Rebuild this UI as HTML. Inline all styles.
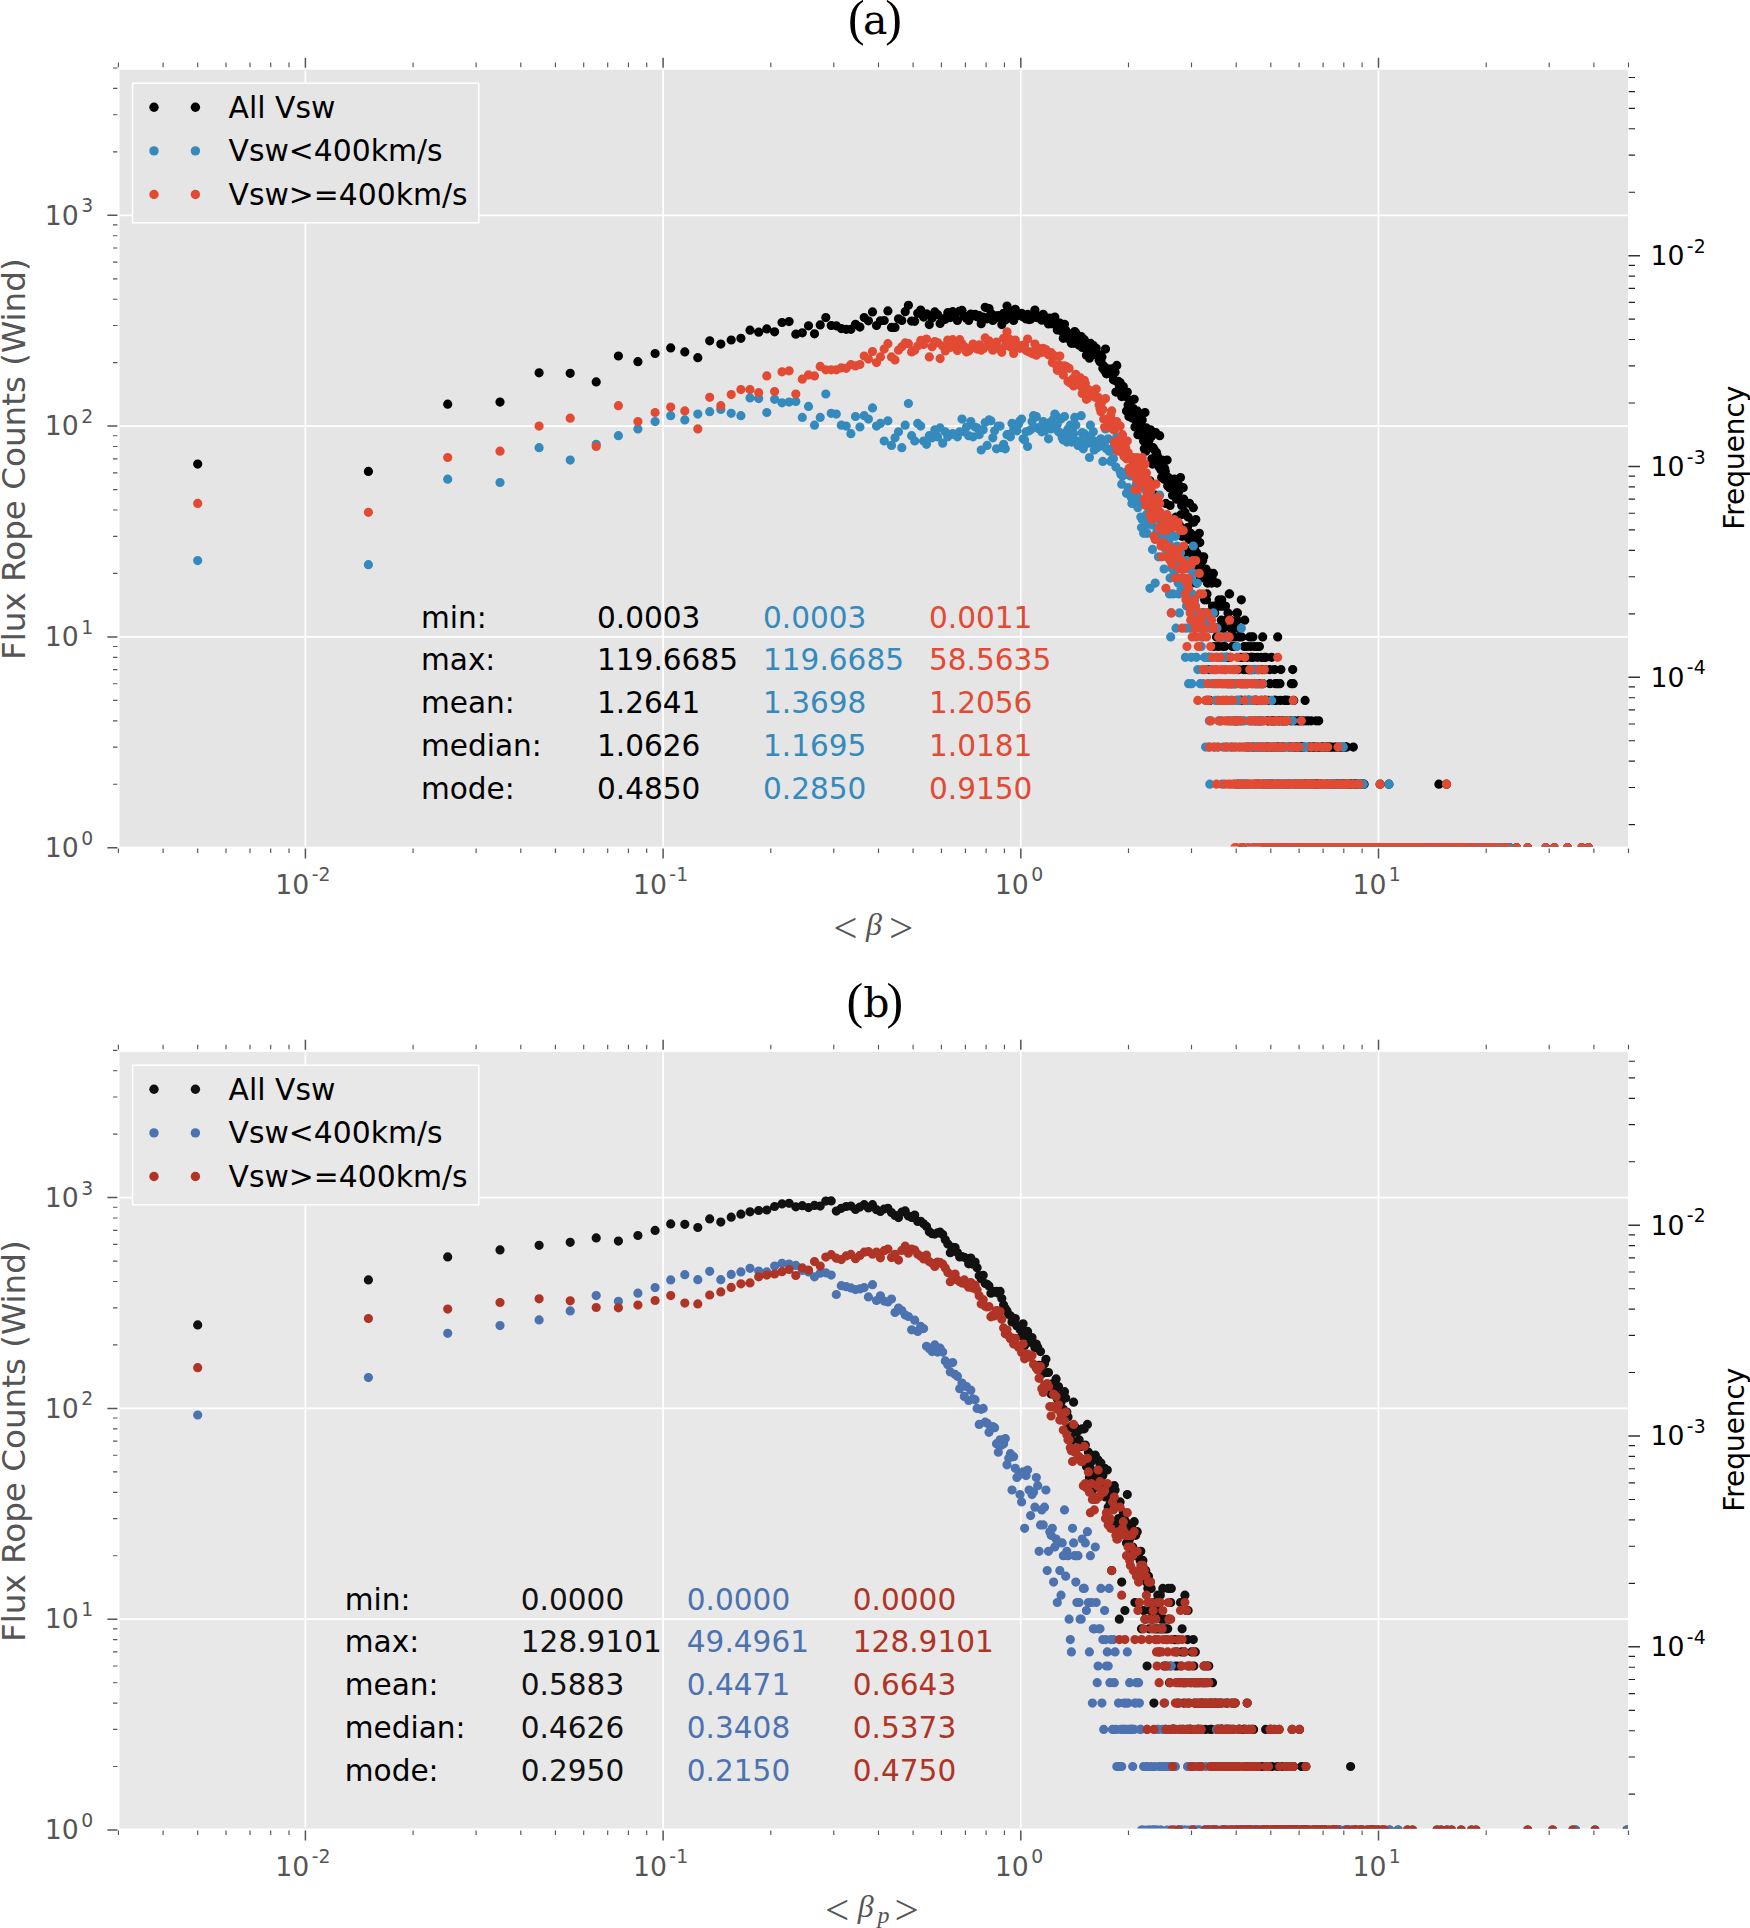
<!DOCTYPE html>
<html lang="en"><head><meta charset="utf-8"><title>Flux rope beta distributions</title>
<style>html,body{margin:0;padding:0;background:#fff}svg{display:block}</style></head><body>
<svg width="1750" height="1928" viewBox="0 0 1750 1928">
<rect width="1750" height="1928" fill="#fff"/>
<clipPath id="c0"><rect x="119.5" y="69.8" width="1508.5" height="776.8"/></clipPath>
<rect x="119.5" y="69.8" width="1508.5" height="776.8" fill="#E5E5E5"/>
<path d="M305.4 69.8V846.6M663.1 69.8V846.6M1020.8 69.8V846.6M1378.5 69.8V846.6M119.5 636.9H1628.0M119.5 426.1H1628.0M119.5 215.3H1628.0" stroke="#fff" stroke-width="1.7" fill="none"/>
<g clip-path="url(#c0)" fill="none" stroke-linecap="round" stroke-width="9.2">
<path stroke="#000000" d="M197.7 464.1h.01M368.4 471.4h.01M447.7 404.2h.01M500.0 402.1h.01M539.1 372.8h.01M570.2 373.3h.01M596.2 381.9h.01M618.4 356.0h.01M637.9 361.7h.01M655.1 353.5h.01M670.7 347.9h.01M684.8 351.9h.01M697.8 357.7h.01M709.7 340.8h.01M720.8 344.1h.01M731.2 340.0h.01M740.9 338.3h.01M750.0 330.2h.01M758.7 332.2h.01M766.8 328.9h.01M774.6 331.8h.01M782.0 322.5h.01M789.1 321.6h.01M795.8 334.2h.01M802.3 332.8h.01M808.5 325.8h.01M814.5 333.8h.01M820.2 324.9h.01M825.8 317.6h.01M831.2 325.5h.01M836.3 325.8h.01M841.3 328.6h.01M846.2 329.3h.01M850.9 329.3h.01M855.5 324.3h.01M859.9 327.1h.01M864.2 317.6h.01M868.4 320.8h.01M872.5 311.9h.01M876.5 325.5h.01M880.4 320.8h.01M884.2 320.5h.01M887.9 310.9h.01M891.5 327.4h.01M895.0 327.4h.01M898.5 318.8h.01M901.8 320.5h.01M905.2 311.7h.01M908.4 305.3h.01M911.6 321.1h.01M914.7 321.3h.01M917.7 313.3h.01M920.7 310.1h.01M923.6 317.1h.01M926.5 313.8h.01M929.3 324.6h.01M932.1 317.9h.01M934.8 311.9h.01M937.5 314.6h.01M940.1 323.4h.01M942.7 318.8h.01M945.3 319.3h.01M947.8 312.7h.01M950.3 317.6h.01M952.7 311.7h.01M955.1 314.6h.01M957.4 320.5h.01M959.7 311.1h.01M962.0 310.4h.01M964.3 316.2h.01M966.5 318.5h.01M968.7 320.5h.01M970.8 314.1h.01M973.0 315.7h.01M975.1 314.3h.01M977.1 316.8h.01M979.2 315.7h.01M981.2 323.7h.01M983.2 317.1h.01M985.2 307.3h.01M987.1 318.8h.01M989.0 308.6h.01M990.9 313.3h.01M992.8 320.5h.01M994.6 315.7h.01M996.5 317.4h.01M998.3 315.7h.01M1000.1 316.2h.01M1001.8 324.6h.01M1003.6 313.3h.01M1005.3 319.9h.01M1007.0 306.1h.01M1008.7 311.1h.01M1010.4 317.9h.01M1012.0 312.5h.01M1013.6 320.5h.01M1015.3 309.3h.01M1016.9 316.0h.01M1018.5 313.3h.01M1020.0 314.1h.01M1021.6 313.3h.01M1023.1 317.1h.01M1024.6 317.1h.01M1026.1 319.0h.01M1027.6 314.3h.01M1029.1 319.6h.01M1030.6 319.3h.01M1032.0 317.9h.01M1033.5 316.2h.01M1034.9 310.1h.01M1036.3 317.4h.01M1037.7 316.0h.01M1039.1 317.6h.01M1040.5 319.0h.01M1041.8 320.2h.01M1043.2 314.3h.01M1044.5 319.6h.01M1045.9 317.6h.01M1047.2 318.8h.01M1048.5 324.0h.01M1049.8 318.2h.01M1051.1 319.6h.01M1052.3 323.7h.01M1053.6 318.2h.01M1054.8 317.1h.01M1056.1 323.4h.01M1057.3 329.9h.01M1058.5 328.6h.01M1059.8 323.1h.01M1061.0 325.5h.01M1062.2 331.8h.01M1063.3 338.3h.01M1064.5 324.3h.01M1065.7 330.2h.01M1066.8 333.5h.01M1068.0 338.6h.01M1069.1 333.5h.01M1070.3 338.3h.01M1071.4 343.3h.01M1072.5 337.9h.01M1073.6 343.3h.01M1074.7 331.5h.01M1075.8 332.8h.01M1076.9 341.1h.01M1078.0 343.3h.01M1079.1 345.2h.01M1080.1 341.1h.01M1081.2 336.5h.01M1082.2 347.5h.01M1083.3 345.6h.01M1084.3 339.7h.01M1085.3 344.8h.01M1086.4 355.2h.01M1087.4 352.3h.01M1088.4 349.1h.01M1089.4 358.2h.01M1090.4 343.3h.01M1091.4 348.7h.01M1092.4 349.8h.01M1093.3 345.6h.01M1094.3 353.5h.01M1095.3 354.3h.01M1096.2 348.3h.01M1097.2 355.6h.01M1098.1 353.9h.01M1099.1 359.9h.01M1100.0 361.7h.01M1100.9 360.8h.01M1101.9 356.9h.01M1102.8 368.3h.01M1103.7 365.9h.01M1104.6 370.8h.01M1105.5 349.1h.01M1106.4 373.8h.01M1107.3 371.3h.01M1108.2 368.8h.01M1109.1 372.3h.01M1109.9 369.8h.01M1110.8 371.8h.01M1111.7 368.8h.01M1112.5 375.4h.01M1113.4 379.7h.01M1114.3 380.3h.01M1115.1 372.3h.01M1115.9 392.1h.01M1116.8 365.4h.01M1117.6 381.9h.01M1118.5 381.4h.01M1119.3 385.4h.01M1120.1 382.5h.01M1120.9 393.4h.01M1121.7 396.6h.01M1122.5 389.6h.01M1123.3 386.6h.01M1124.1 392.7h.01M1124.9 394.6h.01M1125.7 396.6h.01M1126.5 410.9h.01M1127.3 392.1h.01M1128.1 404.9h.01M1128.9 416.5h.01M1129.6 400.0h.01M1130.4 410.9h.01M1131.2 417.4h.01M1131.9 415.7h.01M1132.7 418.2h.01M1133.4 408.6h.01M1134.2 399.3h.01M1134.9 427.0h.01M1135.7 419.9h.01M1136.4 418.2h.01M1137.2 410.9h.01M1137.9 434.7h.01M1138.6 417.4h.01M1139.4 423.4h.01M1140.1 417.4h.01M1140.8 427.0h.01M1141.5 435.7h.01M1142.2 419.9h.01M1142.9 431.8h.01M1143.6 441.0h.01M1144.3 448.8h.01M1145.0 412.5h.01M1145.7 451.2h.01M1146.4 427.9h.01M1147.1 447.7h.01M1147.8 441.0h.01M1148.5 433.7h.01M1149.2 439.9h.01M1149.9 480.8h.01M1150.5 429.8h.01M1151.2 436.8h.01M1151.9 458.8h.01M1152.5 464.1h.01M1153.2 447.7h.01M1153.9 461.4h.01M1154.5 450.0h.01M1155.2 495.2h.01M1155.8 432.7h.01M1156.5 452.4h.01M1157.1 454.9h.01M1157.8 461.4h.01M1158.4 458.8h.01M1159.1 467.0h.01M1159.7 435.7h.01M1160.3 461.4h.01M1161.0 469.9h.01M1161.6 477.6h.01M1162.2 460.1h.01M1162.8 474.4h.01M1163.5 472.9h.01M1164.1 479.2h.01M1164.7 468.4h.01M1165.3 471.4h.01M1165.9 503.4h.01M1166.5 479.2h.01M1167.1 460.1h.01M1167.7 486.0h.01M1168.3 477.6h.01M1168.9 482.5h.01M1169.5 487.7h.01M1170.1 505.5h.01M1170.7 527.6h.01M1171.3 549.4h.01M1171.9 486.0h.01M1172.5 495.2h.01M1173.1 491.4h.01M1173.7 493.3h.01M1174.2 479.2h.01M1174.8 495.2h.01M1175.4 491.4h.01M1176.0 517.1h.01M1176.5 499.2h.01M1177.1 487.7h.01M1177.7 487.7h.01M1178.2 484.2h.01M1178.8 491.4h.01M1179.4 524.9h.01M1179.9 499.2h.01M1180.5 477.6h.01M1181.0 514.7h.01M1181.6 505.5h.01M1182.1 536.3h.01M1182.7 505.5h.01M1183.2 487.7h.01M1183.8 499.2h.01M1184.3 503.4h.01M1184.9 512.3h.01M1185.4 556.8h.01M1185.9 549.4h.01M1186.5 530.4h.01M1187.0 530.4h.01M1187.5 527.6h.01M1188.1 517.1h.01M1188.6 560.6h.01M1189.1 539.4h.01M1189.6 503.4h.01M1190.2 556.8h.01M1190.7 533.3h.01M1191.2 536.3h.01M1191.7 583.1h.01M1192.2 549.4h.01M1192.8 522.2h.01M1193.3 507.7h.01M1193.8 522.2h.01M1194.3 539.4h.01M1194.8 549.4h.01M1195.3 542.6h.01M1195.8 519.6h.01M1196.3 583.1h.01M1196.8 553.0h.01M1197.3 536.3h.01M1197.8 620.2h.01M1198.3 564.7h.01M1198.8 569.0h.01M1199.3 533.3h.01M1199.8 542.6h.01M1200.3 578.1h.01M1200.8 564.7h.01M1201.2 569.0h.01M1201.7 556.8h.01M1202.2 573.4h.01M1202.7 560.6h.01M1203.2 612.9h.01M1203.7 556.8h.01M1204.1 578.1h.01M1204.6 599.8h.01M1205.1 578.1h.01M1205.6 657.3h.01M1206.0 569.0h.01M1206.5 599.8h.01M1207.0 593.9h.01M1207.4 583.1h.01M1207.9 583.1h.01M1208.4 612.9h.01M1208.8 657.3h.01M1209.3 669.6h.01M1209.8 700.4h.01M1210.2 620.2h.01M1210.7 573.4h.01M1211.1 628.2h.01M1211.6 583.1h.01M1212.0 578.1h.01M1212.5 606.1h.01M1213.0 612.9h.01M1213.4 573.4h.01M1213.9 646.5h.01M1214.3 606.1h.01M1214.7 612.9h.01M1215.2 606.1h.01M1215.6 628.2h.01M1216.1 606.1h.01M1216.5 636.9h.01M1217.0 583.1h.01M1217.4 628.2h.01M1217.8 628.2h.01M1218.3 646.5h.01M1218.7 606.1h.01M1219.1 599.8h.01M1219.6 636.9h.01M1220.0 606.1h.01M1220.4 636.9h.01M1220.9 606.1h.01M1221.3 620.2h.01M1221.7 599.8h.01M1222.1 657.3h.01M1222.6 628.2h.01M1223.0 646.5h.01M1223.4 628.2h.01M1223.8 606.1h.01M1224.3 636.9h.01M1224.7 646.5h.01M1225.1 606.1h.01M1225.5 606.1h.01M1225.9 657.3h.01M1226.3 620.2h.01M1226.8 636.9h.01M1227.2 657.3h.01M1227.6 683.7h.01M1228.0 612.9h.01M1228.4 683.7h.01M1228.8 636.9h.01M1229.2 593.9h.01M1229.6 593.9h.01M1230.0 657.3h.01M1230.4 620.2h.01M1230.8 628.2h.01M1231.6 683.7h.01M1232.0 636.9h.01M1232.4 646.5h.01M1232.8 646.5h.01M1233.2 683.7h.01M1233.6 628.2h.01M1234.0 646.5h.01M1234.4 683.7h.01M1234.8 720.8h.01M1235.2 636.9h.01M1235.6 646.5h.01M1236.0 683.7h.01M1236.4 720.8h.01M1236.7 612.9h.01M1237.1 620.2h.01M1237.5 612.9h.01M1237.9 720.8h.01M1238.3 784.2h.01M1238.7 669.6h.01M1239.0 628.2h.01M1239.4 636.9h.01M1239.8 700.4h.01M1240.2 657.3h.01M1240.6 683.7h.01M1240.9 700.4h.01M1241.3 599.8h.01M1241.7 636.9h.01M1242.1 700.4h.01M1242.4 784.2h.01M1242.8 847.7h.01M1243.2 657.3h.01M1243.6 669.6h.01M1243.9 683.7h.01M1244.3 646.5h.01M1244.7 620.2h.01M1245.0 700.4h.01M1245.4 669.6h.01M1245.8 657.3h.01M1246.1 683.7h.01M1246.5 784.2h.01M1246.8 646.5h.01M1247.2 657.3h.01M1247.6 683.7h.01M1247.9 669.6h.01M1248.3 747.1h.01M1248.7 700.4h.01M1249.0 700.4h.01M1249.4 669.6h.01M1249.7 636.9h.01M1250.1 669.6h.01M1250.4 646.5h.01M1250.8 657.3h.01M1251.1 669.6h.01M1251.5 657.3h.01M1251.8 636.9h.01M1252.2 669.6h.01M1252.5 747.1h.01M1252.9 636.9h.01M1253.2 657.3h.01M1253.6 700.4h.01M1253.9 747.1h.01M1254.3 646.5h.01M1254.6 669.6h.01M1255.0 700.4h.01M1255.3 683.7h.01M1255.7 720.8h.01M1256.0 700.4h.01M1256.3 700.4h.01M1256.7 646.5h.01M1257.0 747.1h.01M1257.4 657.3h.01M1257.7 669.6h.01M1258.0 683.7h.01M1258.4 683.7h.01M1258.7 669.6h.01M1259.0 720.8h.01M1259.4 646.5h.01M1259.7 683.7h.01M1260.0 720.8h.01M1260.4 747.1h.01M1260.7 720.8h.01M1261.0 657.3h.01M1261.4 700.4h.01M1261.7 669.6h.01M1262.0 669.6h.01M1262.4 683.7h.01M1262.7 636.9h.01M1263.0 683.7h.01M1263.3 747.1h.01M1263.7 784.2h.01M1264.0 669.6h.01M1264.3 657.3h.01M1264.6 669.6h.01M1265.0 700.4h.01M1265.3 700.4h.01M1265.6 847.7h.01M1265.9 657.3h.01M1266.2 784.2h.01M1266.6 747.1h.01M1266.9 784.2h.01M1267.2 747.1h.01M1267.5 720.8h.01M1267.8 747.1h.01M1268.2 700.4h.01M1268.5 784.2h.01M1268.8 720.8h.01M1269.4 784.2h.01M1269.7 669.6h.01M1270.0 683.7h.01M1270.4 747.1h.01M1270.7 784.2h.01M1271.0 784.2h.01M1271.3 720.8h.01M1271.6 657.3h.01M1271.9 720.8h.01M1272.2 847.7h.01M1272.5 784.2h.01M1272.8 784.2h.01M1273.1 720.8h.01M1273.4 720.8h.01M1273.7 747.1h.01M1274.1 700.4h.01M1274.4 669.6h.01M1274.7 700.4h.01M1275.0 720.8h.01M1275.3 683.7h.01M1275.9 683.7h.01M1276.2 700.4h.01M1276.5 747.1h.01M1276.8 784.2h.01M1277.1 683.7h.01M1277.4 747.1h.01M1277.7 636.9h.01M1278.0 747.1h.01M1278.3 720.8h.01M1278.5 747.1h.01M1278.8 784.2h.01M1279.1 847.7h.01M1279.4 747.1h.01M1279.7 720.8h.01M1280.0 683.7h.01M1280.3 700.4h.01M1280.9 669.6h.01M1281.5 747.1h.01M1281.8 720.8h.01M1282.1 747.1h.01M1282.3 847.7h.01M1282.6 720.8h.01M1282.9 784.2h.01M1283.5 747.1h.01M1283.8 747.1h.01M1284.1 720.8h.01M1284.4 700.4h.01M1284.6 847.7h.01M1284.9 847.7h.01M1285.2 700.4h.01M1285.5 700.4h.01M1285.8 784.2h.01M1286.1 720.8h.01M1286.3 720.8h.01M1286.6 847.7h.01M1286.9 720.8h.01M1287.2 700.4h.01M1287.5 847.7h.01M1288.0 700.4h.01M1288.3 784.2h.01M1288.8 784.2h.01M1289.1 747.1h.01M1289.4 747.1h.01M1289.7 847.7h.01M1289.9 747.1h.01M1290.5 847.7h.01M1290.8 747.1h.01M1291.0 720.8h.01M1291.3 683.7h.01M1291.6 747.1h.01M1291.9 747.1h.01M1292.1 847.7h.01M1292.4 683.7h.01M1292.7 669.6h.01M1293.2 683.7h.01M1293.5 847.7h.01M1293.7 700.4h.01M1294.0 784.2h.01M1294.3 784.2h.01M1294.8 784.2h.01M1295.1 720.8h.01M1295.3 747.1h.01M1295.9 784.2h.01M1296.1 747.1h.01M1296.4 747.1h.01M1296.7 784.2h.01M1296.9 847.7h.01M1297.5 847.7h.01M1297.7 747.1h.01M1298.0 720.8h.01M1298.5 784.2h.01M1299.0 747.1h.01M1299.3 720.8h.01M1299.5 847.7h.01M1299.8 847.7h.01M1300.3 784.2h.01M1300.6 747.1h.01M1300.8 784.2h.01M1301.1 747.1h.01M1301.3 720.8h.01M1301.6 747.1h.01M1301.8 784.2h.01M1302.3 747.1h.01M1302.6 847.7h.01M1302.9 747.1h.01M1303.4 720.8h.01M1303.6 784.2h.01M1304.1 747.1h.01M1304.4 784.2h.01M1304.6 847.7h.01M1304.9 784.2h.01M1305.1 700.4h.01M1305.4 784.2h.01M1305.6 847.7h.01M1305.9 784.2h.01M1306.4 720.8h.01M1306.6 784.2h.01M1306.8 847.7h.01M1307.1 784.2h.01M1307.3 847.7h.01M1307.8 847.7h.01M1308.1 784.2h.01M1308.3 720.8h.01M1308.6 747.1h.01M1309.0 784.2h.01M1309.5 784.2h.01M1309.8 747.1h.01M1310.3 784.2h.01M1311.0 784.2h.01M1311.2 720.8h.01M1311.5 747.1h.01M1311.9 784.2h.01M1312.7 847.7h.01M1312.9 784.2h.01M1313.1 747.1h.01M1313.4 847.7h.01M1313.6 747.1h.01M1313.8 784.2h.01M1314.3 784.2h.01M1314.5 847.7h.01M1314.8 747.1h.01M1315.2 847.7h.01M1315.5 847.7h.01M1315.7 784.2h.01M1315.9 847.7h.01M1316.2 720.8h.01M1316.4 747.1h.01M1316.6 784.2h.01M1316.9 784.2h.01M1317.3 784.2h.01M1317.6 847.7h.01M1318.0 847.7h.01M1318.2 747.1h.01M1318.5 847.7h.01M1318.7 720.8h.01M1318.9 784.2h.01M1319.6 784.2h.01M1319.8 847.7h.01M1320.1 784.2h.01M1320.3 847.7h.01M1320.7 784.2h.01M1321.0 784.2h.01M1321.2 747.1h.01M1321.4 847.7h.01M1321.6 747.1h.01M1321.9 784.2h.01M1322.1 847.7h.01M1322.5 747.1h.01M1322.8 747.1h.01M1323.0 847.7h.01M1323.4 747.1h.01M1324.3 847.7h.01M1325.0 847.7h.01M1325.4 747.1h.01M1325.8 847.7h.01M1326.3 747.1h.01M1326.5 784.2h.01M1326.7 847.7h.01M1327.1 784.2h.01M1327.4 847.7h.01M1327.6 747.1h.01M1327.8 747.1h.01M1328.4 847.7h.01M1328.9 847.7h.01M1329.3 747.1h.01M1329.5 847.7h.01M1329.7 784.2h.01M1330.1 747.1h.01M1330.4 747.1h.01M1330.6 784.2h.01M1331.0 784.2h.01M1331.4 847.7h.01M1331.6 784.2h.01M1332.0 847.7h.01M1332.5 747.1h.01M1332.7 847.7h.01M1333.1 847.7h.01M1333.3 847.7h.01M1333.5 784.2h.01M1333.9 847.7h.01M1334.5 847.7h.01M1334.9 847.7h.01M1335.1 747.1h.01M1335.4 784.2h.01M1335.6 847.7h.01M1335.8 747.1h.01M1336.2 784.2h.01M1336.6 784.2h.01M1336.8 847.7h.01M1337.4 847.7h.01M1337.8 784.2h.01M1338.0 747.1h.01M1338.4 847.7h.01M1338.8 784.2h.01M1339.0 847.7h.01M1339.4 847.7h.01M1340.0 847.7h.01M1340.6 784.2h.01M1340.8 747.1h.01M1341.0 784.2h.01M1341.6 847.7h.01M1341.8 847.7h.01M1342.4 784.2h.01M1342.6 847.7h.01M1342.8 784.2h.01M1343.0 847.7h.01M1343.3 747.1h.01M1343.5 784.2h.01M1343.7 847.7h.01M1343.9 847.7h.01M1344.3 784.2h.01M1344.7 847.7h.01M1344.9 847.7h.01M1345.5 784.2h.01M1345.7 747.1h.01M1346.1 784.2h.01M1346.2 747.1h.01M1346.6 747.1h.01M1346.8 747.1h.01M1347.0 847.7h.01M1347.6 847.7h.01M1347.8 784.2h.01M1348.0 847.7h.01M1348.7 847.7h.01M1349.1 847.7h.01M1349.3 784.2h.01M1349.5 847.7h.01M1350.0 847.7h.01M1350.6 784.2h.01M1350.8 847.7h.01M1351.1 784.2h.01M1351.7 847.7h.01M1351.9 847.7h.01M1352.2 784.2h.01M1352.6 847.7h.01M1352.8 847.7h.01M1353.3 747.1h.01M1353.7 784.2h.01M1353.9 784.2h.01M1354.3 784.2h.01M1354.4 847.7h.01M1354.8 847.7h.01M1355.5 847.7h.01M1355.7 784.2h.01M1355.9 847.7h.01M1356.2 784.2h.01M1356.6 847.7h.01M1357.3 847.7h.01M1357.8 784.2h.01M1358.7 847.7h.01M1358.9 847.7h.01M1359.3 847.7h.01M1359.4 784.2h.01M1359.8 847.7h.01M1360.7 847.7h.01M1361.4 847.7h.01M1361.5 784.2h.01M1361.9 847.7h.01M1362.4 784.2h.01M1362.6 847.7h.01M1362.9 847.7h.01M1363.3 784.2h.01M1363.6 847.7h.01M1363.9 847.7h.01M1364.1 784.2h.01M1364.3 847.7h.01M1365.0 847.7h.01M1365.6 847.7h.01M1366.1 847.7h.01M1366.8 847.7h.01M1367.3 847.7h.01M1367.8 847.7h.01M1368.3 847.7h.01M1368.8 847.7h.01M1369.3 847.7h.01M1369.8 847.7h.01M1370.3 847.7h.01M1370.8 847.7h.01M1371.3 847.7h.01M1371.8 847.7h.01M1372.4 847.7h.01M1373.0 847.7h.01M1373.4 847.7h.01M1374.0 847.7h.01M1374.3 847.7h.01M1375.3 847.7h.01M1376.2 847.7h.01M1376.5 847.7h.01M1377.5 847.7h.01M1377.8 847.7h.01M1378.4 847.7h.01M1378.9 847.7h.01M1379.5 847.7h.01M1380.0 847.7h.01M1380.1 784.2h.01M1380.4 847.7h.01M1381.5 847.7h.01M1382.0 847.7h.01M1382.3 847.7h.01M1382.9 847.7h.01M1383.5 847.7h.01M1383.9 847.7h.01M1384.4 847.7h.01M1384.8 847.7h.01M1385.3 847.7h.01M1386.0 847.7h.01M1386.7 847.7h.01M1386.9 847.7h.01M1387.5 847.7h.01M1387.8 847.7h.01M1388.8 847.7h.01M1388.9 784.2h.01M1389.4 847.7h.01M1390.7 847.7h.01M1390.8 847.7h.01M1392.0 847.7h.01M1392.7 847.7h.01M1392.8 847.7h.01M1393.7 847.7h.01M1394.6 847.7h.01M1394.8 847.7h.01M1395.3 847.7h.01M1395.8 847.7h.01M1396.3 847.7h.01M1398.0 847.7h.01M1398.5 847.7h.01M1398.8 847.7h.01M1399.5 847.7h.01M1399.9 847.7h.01M1400.5 847.7h.01M1401.0 847.7h.01M1401.4 847.7h.01M1401.8 847.7h.01M1402.6 847.7h.01M1403.5 847.7h.01M1404.0 847.7h.01M1404.4 847.7h.01M1405.6 847.7h.01M1406.5 847.7h.01M1407.0 847.7h.01M1407.3 847.7h.01M1408.4 847.7h.01M1409.1 847.7h.01M1409.6 847.7h.01M1410.2 847.7h.01M1410.5 847.7h.01M1411.5 847.7h.01M1411.9 847.7h.01M1412.5 847.7h.01M1413.2 847.7h.01M1413.4 847.7h.01M1413.8 847.7h.01M1415.1 847.7h.01M1415.3 847.7h.01M1415.8 847.7h.01M1416.3 847.7h.01M1417.6 847.7h.01M1418.2 847.7h.01M1419.0 847.7h.01M1419.6 847.7h.01M1419.9 847.7h.01M1420.4 847.7h.01M1421.1 847.7h.01M1421.6 847.7h.01M1421.8 847.7h.01M1422.6 847.7h.01M1423.1 847.7h.01M1423.3 847.7h.01M1424.0 847.7h.01M1424.4 847.7h.01M1424.9 847.7h.01M1425.5 847.7h.01M1425.9 847.7h.01M1426.9 847.7h.01M1427.3 847.7h.01M1428.1 847.7h.01M1428.4 847.7h.01M1429.2 847.7h.01M1429.9 847.7h.01M1430.4 847.7h.01M1431.3 847.7h.01M1432.2 847.7h.01M1432.4 847.7h.01M1432.9 847.7h.01M1434.2 847.7h.01M1434.3 847.7h.01M1435.2 847.7h.01M1436.0 847.7h.01M1436.5 847.7h.01M1436.8 847.7h.01M1437.7 847.7h.01M1437.8 847.7h.01M1438.9 784.2h.01M1439.0 847.7h.01M1440.2 847.7h.01M1440.8 847.7h.01M1441.5 847.7h.01M1442.3 847.7h.01M1443.2 847.7h.01M1443.9 847.7h.01M1444.3 847.7h.01M1445.3 847.7h.01M1446.5 784.2h.01M1449.0 847.7h.01M1449.4 847.7h.01M1450.0 847.7h.01M1450.5 847.7h.01M1450.9 847.7h.01M1452.8 847.7h.01M1454.7 847.7h.01M1455.5 847.7h.01M1455.9 847.7h.01M1456.5 847.7h.01M1457.2 847.7h.01M1457.6 847.7h.01M1457.8 847.7h.01M1458.6 847.7h.01M1459.0 847.7h.01M1459.5 847.7h.01M1460.7 847.7h.01M1461.0 847.7h.01M1462.3 847.7h.01M1462.8 847.7h.01M1463.3 847.7h.01M1464.3 847.7h.01M1466.2 847.7h.01M1466.9 847.7h.01M1467.6 847.7h.01M1467.9 847.7h.01M1468.7 847.7h.01M1471.7 847.7h.01M1472.5 847.7h.01M1473.2 847.7h.01M1475.3 847.7h.01M1476.9 847.7h.01M1479.0 847.7h.01M1481.7 847.7h.01M1481.9 847.7h.01M1482.3 847.7h.01M1484.2 847.7h.01M1489.2 847.7h.01M1490.1 847.7h.01M1492.6 847.7h.01M1493.4 847.7h.01M1494.2 847.7h.01M1496.1 847.7h.01M1496.4 847.7h.01M1501.0 847.7h.01M1501.4 847.7h.01M1502.8 847.7h.01M1506.4 847.7h.01M1509.7 847.7h.01M1516.6 847.7h.01M1527.7 847.7h.01M1545.7 847.7h.01M1554.3 847.7h.01M1567.5 847.7h.01M1581.7 847.7h.01M1588.6 847.7h.01"/>
<path stroke="#348ABD" d="M197.7 560.6h.01M368.4 564.7h.01M447.7 479.2h.01M500.0 482.5h.01M539.1 447.7h.01M570.2 460.1h.01M596.2 444.3h.01M618.4 435.7h.01M637.9 428.9h.01M655.1 421.6h.01M670.7 415.7h.01M684.8 419.9h.01M697.8 414.1h.01M709.7 411.7h.01M720.8 409.4h.01M731.2 413.3h.01M740.9 415.7h.01M750.0 397.9h.01M758.7 398.6h.01M766.8 412.5h.01M774.6 399.3h.01M782.0 402.8h.01M789.1 402.1h.01M795.8 401.4h.01M802.3 417.4h.01M808.5 406.4h.01M814.5 425.2h.01M820.2 417.4h.01M825.8 394.0h.01M831.2 413.3h.01M836.3 414.1h.01M841.3 425.2h.01M846.2 426.1h.01M850.9 433.7h.01M855.5 416.5h.01M859.9 427.0h.01M864.2 415.7h.01M868.4 419.1h.01M872.5 407.9h.01M876.5 426.1h.01M880.4 423.4h.01M884.2 441.0h.01M887.9 420.8h.01M891.5 445.4h.01M895.0 437.8h.01M898.5 431.8h.01M901.8 447.7h.01M905.2 425.2h.01M908.4 403.5h.01M911.6 435.7h.01M914.7 441.0h.01M917.7 423.4h.01M920.7 426.1h.01M923.6 441.0h.01M926.5 444.3h.01M929.3 435.7h.01M932.1 437.8h.01M934.8 429.8h.01M937.5 436.8h.01M940.1 427.9h.01M942.7 443.2h.01M945.3 431.8h.01M947.8 436.8h.01M950.3 434.7h.01M952.7 433.7h.01M955.1 434.7h.01M957.4 436.8h.01M959.7 431.8h.01M962.0 419.1h.01M964.3 431.8h.01M966.5 427.0h.01M968.7 435.7h.01M970.8 421.6h.01M973.0 436.8h.01M975.1 427.0h.01M977.1 427.9h.01M979.2 434.7h.01M981.2 450.0h.01M983.2 429.8h.01M985.2 422.5h.01M987.1 445.4h.01M989.0 419.9h.01M990.9 420.8h.01M992.8 437.8h.01M994.6 430.8h.01M996.5 448.8h.01M998.3 426.1h.01M1000.1 426.1h.01M1001.8 447.7h.01M1003.6 444.3h.01M1005.3 448.8h.01M1007.0 434.7h.01M1008.7 434.7h.01M1010.4 436.8h.01M1012.0 423.4h.01M1013.6 429.8h.01M1015.3 424.3h.01M1016.9 430.8h.01M1018.5 424.3h.01M1020.0 420.8h.01M1021.6 419.1h.01M1023.1 438.8h.01M1024.6 439.9h.01M1026.1 431.8h.01M1027.6 446.5h.01M1029.1 430.8h.01M1030.6 429.8h.01M1032.0 421.6h.01M1033.5 415.7h.01M1034.9 417.4h.01M1036.3 416.5h.01M1037.7 427.9h.01M1039.1 428.9h.01M1040.5 427.0h.01M1041.8 431.8h.01M1043.2 421.6h.01M1044.5 430.8h.01M1045.9 429.8h.01M1047.2 426.1h.01M1048.5 438.8h.01M1049.8 422.5h.01M1051.1 428.9h.01M1052.3 420.8h.01M1053.6 419.1h.01M1054.8 414.1h.01M1056.1 415.7h.01M1057.3 424.3h.01M1058.5 431.8h.01M1059.8 432.7h.01M1061.0 419.1h.01M1062.2 437.8h.01M1063.3 439.9h.01M1064.5 416.5h.01M1065.7 432.7h.01M1066.8 442.1h.01M1068.0 428.9h.01M1069.1 438.8h.01M1070.3 425.2h.01M1071.4 442.1h.01M1072.5 430.8h.01M1073.6 433.7h.01M1074.7 417.4h.01M1075.8 425.2h.01M1076.9 441.0h.01M1078.0 445.4h.01M1079.1 441.0h.01M1080.1 443.2h.01M1081.2 415.7h.01M1082.2 432.7h.01M1083.3 448.8h.01M1084.3 433.7h.01M1085.3 442.1h.01M1086.4 443.2h.01M1087.4 436.8h.01M1088.4 443.2h.01M1089.4 457.5h.01M1090.4 425.2h.01M1091.4 439.9h.01M1092.4 439.9h.01M1093.3 431.8h.01M1094.3 450.0h.01M1095.3 444.3h.01M1096.2 442.1h.01M1097.2 447.7h.01M1098.1 443.2h.01M1099.1 446.5h.01M1100.0 445.4h.01M1100.9 438.8h.01M1101.9 443.2h.01M1102.8 461.4h.01M1103.7 441.0h.01M1104.6 442.1h.01M1105.5 428.9h.01M1106.4 448.8h.01M1107.3 448.8h.01M1108.2 438.8h.01M1109.1 451.2h.01M1109.9 451.2h.01M1110.8 461.4h.01M1111.7 460.1h.01M1112.5 460.1h.01M1113.4 458.8h.01M1114.3 445.4h.01M1115.1 443.2h.01M1115.9 467.0h.01M1116.8 436.8h.01M1117.6 439.9h.01M1118.5 450.0h.01M1119.3 450.0h.01M1120.1 471.4h.01M1120.9 474.4h.01M1121.7 484.2h.01M1122.5 476.0h.01M1123.3 453.7h.01M1124.1 456.2h.01M1124.9 472.9h.01M1125.7 474.4h.01M1126.5 493.3h.01M1127.3 472.9h.01M1128.1 487.7h.01M1128.9 493.3h.01M1129.6 471.4h.01M1130.4 476.0h.01M1131.2 497.2h.01M1131.9 503.4h.01M1132.7 491.4h.01M1133.4 489.6h.01M1134.2 467.0h.01M1134.9 491.4h.01M1135.7 493.3h.01M1136.4 484.2h.01M1137.2 495.2h.01M1137.9 507.7h.01M1138.6 501.3h.01M1139.4 505.5h.01M1140.1 479.2h.01M1140.8 517.1h.01M1141.5 527.6h.01M1142.2 519.6h.01M1142.9 519.6h.01M1143.6 533.3h.01M1144.3 527.6h.01M1145.0 489.6h.01M1145.7 524.9h.01M1146.4 514.7h.01M1147.1 533.3h.01M1147.8 522.2h.01M1148.5 517.1h.01M1149.2 510.0h.01M1149.9 588.3h.01M1150.5 495.2h.01M1151.2 514.7h.01M1151.9 524.9h.01M1152.5 549.4h.01M1153.2 519.6h.01M1153.9 514.7h.01M1154.5 512.3h.01M1155.2 583.1h.01M1155.8 510.0h.01M1156.5 533.3h.01M1157.1 530.4h.01M1157.8 533.3h.01M1158.4 556.8h.01M1159.1 533.3h.01M1159.7 495.2h.01M1160.3 539.4h.01M1161.0 522.2h.01M1161.6 527.6h.01M1162.2 517.1h.01M1162.8 530.4h.01M1163.5 530.4h.01M1164.1 569.0h.01M1164.7 533.3h.01M1165.3 539.4h.01M1165.9 549.4h.01M1166.5 556.8h.01M1167.1 533.3h.01M1167.7 553.0h.01M1168.3 527.6h.01M1168.9 542.6h.01M1169.5 593.9h.01M1170.1 578.1h.01M1170.7 636.9h.01M1171.3 612.9h.01M1171.9 536.3h.01M1172.5 569.0h.01M1173.1 593.9h.01M1173.7 556.8h.01M1174.2 573.4h.01M1174.8 564.7h.01M1175.4 536.3h.01M1176.0 628.2h.01M1176.5 578.1h.01M1177.1 546.0h.01M1177.7 549.4h.01M1178.2 583.1h.01M1178.8 593.9h.01M1179.4 612.9h.01M1179.9 556.8h.01M1180.5 553.0h.01M1181.0 588.3h.01M1181.6 578.1h.01M1182.1 578.1h.01M1182.7 560.6h.01M1183.2 578.1h.01M1183.8 583.1h.01M1184.3 564.7h.01M1184.9 588.3h.01M1185.4 657.3h.01M1185.9 628.2h.01M1186.5 606.1h.01M1187.0 560.6h.01M1187.5 599.8h.01M1188.1 583.1h.01M1188.6 683.7h.01M1189.1 599.8h.01M1189.6 569.0h.01M1190.2 628.2h.01M1190.7 578.1h.01M1191.2 657.3h.01M1191.7 683.7h.01M1192.2 593.9h.01M1192.8 620.2h.01M1193.3 546.0h.01M1193.8 573.4h.01M1194.3 599.8h.01M1194.8 599.8h.01M1195.3 606.1h.01M1195.8 612.9h.01M1196.3 657.3h.01M1196.8 612.9h.01M1197.3 583.1h.01M1197.8 669.6h.01M1198.3 612.9h.01M1198.8 620.2h.01M1199.3 628.2h.01M1199.8 620.2h.01M1200.3 683.7h.01M1200.8 628.2h.01M1201.2 646.5h.01M1201.7 612.9h.01M1202.2 636.9h.01M1202.7 669.6h.01M1203.2 683.7h.01M1203.7 612.9h.01M1204.1 620.2h.01M1204.6 657.3h.01M1205.1 620.2h.01M1205.6 747.1h.01M1206.0 657.3h.01M1206.5 700.4h.01M1207.0 628.2h.01M1207.4 700.4h.01M1207.9 620.2h.01M1208.4 657.3h.01M1208.8 747.1h.01M1209.3 720.8h.01M1209.8 784.2h.01M1210.2 657.3h.01M1210.7 628.2h.01M1211.1 669.6h.01M1211.6 683.7h.01M1212.0 657.3h.01M1212.5 683.7h.01M1213.0 683.7h.01M1213.4 612.9h.01M1213.9 683.7h.01M1214.3 747.1h.01M1214.7 683.7h.01M1215.2 669.6h.01M1215.6 700.4h.01M1216.1 657.3h.01M1216.5 657.3h.01M1217.0 628.2h.01M1217.4 747.1h.01M1217.8 700.4h.01M1218.3 683.7h.01M1218.7 720.8h.01M1219.1 636.9h.01M1219.6 683.7h.01M1220.0 683.7h.01M1220.4 636.9h.01M1220.9 720.8h.01M1221.3 657.3h.01M1222.1 784.2h.01M1222.6 683.7h.01M1223.0 747.1h.01M1223.4 683.7h.01M1223.8 657.3h.01M1224.3 747.1h.01M1224.7 669.6h.01M1225.1 636.9h.01M1225.5 657.3h.01M1225.9 700.4h.01M1226.3 669.6h.01M1226.8 683.7h.01M1227.2 747.1h.01M1228.0 747.1h.01M1228.4 720.8h.01M1228.8 683.7h.01M1229.6 720.8h.01M1230.0 683.7h.01M1230.4 700.4h.01M1230.8 747.1h.01M1231.2 700.4h.01M1231.6 747.1h.01M1232.0 683.7h.01M1232.4 683.7h.01M1232.8 720.8h.01M1233.6 720.8h.01M1234.0 669.6h.01M1234.4 720.8h.01M1234.8 747.1h.01M1235.2 683.7h.01M1235.6 683.7h.01M1236.0 700.4h.01M1236.4 784.2h.01M1236.7 646.5h.01M1237.1 700.4h.01M1237.5 700.4h.01M1237.9 720.8h.01M1238.7 720.8h.01M1239.0 700.4h.01M1239.4 720.8h.01M1239.8 747.1h.01M1240.2 784.2h.01M1240.6 784.2h.01M1240.9 720.8h.01M1241.3 628.2h.01M1241.7 683.7h.01M1242.1 784.2h.01M1242.4 784.2h.01M1242.8 847.7h.01M1243.2 683.7h.01M1243.6 720.8h.01M1244.3 720.8h.01M1245.0 784.2h.01M1245.4 700.4h.01M1245.8 784.2h.01M1246.1 747.1h.01M1246.5 784.2h.01M1246.8 747.1h.01M1247.2 700.4h.01M1247.6 700.4h.01M1247.9 683.7h.01M1248.3 784.2h.01M1248.7 720.8h.01M1249.0 747.1h.01M1249.4 700.4h.01M1249.7 747.1h.01M1250.1 747.1h.01M1250.4 700.4h.01M1250.8 784.2h.01M1251.1 720.8h.01M1251.5 700.4h.01M1251.8 683.7h.01M1252.2 669.6h.01M1252.5 847.7h.01M1252.9 683.7h.01M1253.2 720.8h.01M1253.6 747.1h.01M1253.9 847.7h.01M1254.3 747.1h.01M1254.6 784.2h.01M1255.0 720.8h.01M1255.3 720.8h.01M1255.7 784.2h.01M1256.0 747.1h.01M1256.3 747.1h.01M1256.7 669.6h.01M1257.0 847.7h.01M1257.4 683.7h.01M1257.7 747.1h.01M1258.0 720.8h.01M1258.4 747.1h.01M1258.7 784.2h.01M1259.0 784.2h.01M1259.4 784.2h.01M1259.7 720.8h.01M1260.0 720.8h.01M1260.4 847.7h.01M1260.7 747.1h.01M1261.0 747.1h.01M1261.4 784.2h.01M1261.7 700.4h.01M1262.0 847.7h.01M1262.4 700.4h.01M1262.7 683.7h.01M1263.0 720.8h.01M1263.3 784.2h.01M1264.0 747.1h.01M1264.3 847.7h.01M1264.6 784.2h.01M1265.0 784.2h.01M1265.6 847.7h.01M1265.9 700.4h.01M1266.2 847.7h.01M1266.6 784.2h.01M1266.9 847.7h.01M1267.5 847.7h.01M1267.8 847.7h.01M1268.2 784.2h.01M1268.5 784.2h.01M1268.8 784.2h.01M1269.4 847.7h.01M1269.7 747.1h.01M1270.0 784.2h.01M1270.4 847.7h.01M1271.0 847.7h.01M1271.3 784.2h.01M1271.6 700.4h.01M1271.9 847.7h.01M1272.5 847.7h.01M1272.8 847.7h.01M1273.4 784.2h.01M1273.7 847.7h.01M1274.1 784.2h.01M1274.4 747.1h.01M1274.7 847.7h.01M1275.0 747.1h.01M1275.3 747.1h.01M1275.9 784.2h.01M1276.2 747.1h.01M1276.5 747.1h.01M1276.8 784.2h.01M1277.4 847.7h.01M1277.7 784.2h.01M1278.0 784.2h.01M1278.3 847.7h.01M1278.5 784.2h.01M1278.8 847.7h.01M1279.7 784.2h.01M1280.0 747.1h.01M1280.3 784.2h.01M1280.9 747.1h.01M1281.5 747.1h.01M1281.8 784.2h.01M1282.1 847.7h.01M1282.6 747.1h.01M1282.9 847.7h.01M1283.5 784.2h.01M1283.8 784.2h.01M1284.1 847.7h.01M1284.4 847.7h.01M1285.2 747.1h.01M1285.5 720.8h.01M1285.8 784.2h.01M1286.1 747.1h.01M1286.3 747.1h.01M1286.9 747.1h.01M1287.2 847.7h.01M1287.5 847.7h.01M1288.0 747.1h.01M1288.3 847.7h.01M1289.1 747.1h.01M1289.4 847.7h.01M1289.9 747.1h.01M1290.2 784.2h.01M1290.5 847.7h.01M1290.8 784.2h.01M1291.0 847.7h.01M1291.3 747.1h.01M1291.6 784.2h.01M1291.9 784.2h.01M1292.4 747.1h.01M1292.7 720.8h.01M1293.2 847.7h.01M1293.7 747.1h.01M1294.0 847.7h.01M1294.5 784.2h.01M1294.8 847.7h.01M1295.1 784.2h.01M1295.3 784.2h.01M1295.9 847.7h.01M1296.1 784.2h.01M1298.0 784.2h.01M1298.5 784.2h.01M1299.3 784.2h.01M1299.5 847.7h.01M1299.8 847.7h.01M1300.3 847.7h.01M1301.1 784.2h.01M1301.6 784.2h.01M1301.8 784.2h.01M1302.3 784.2h.01M1302.9 784.2h.01M1303.4 747.1h.01M1303.6 847.7h.01M1304.1 847.7h.01M1304.4 847.7h.01M1305.1 747.1h.01M1305.4 784.2h.01M1306.4 747.1h.01M1307.8 847.7h.01M1308.3 784.2h.01M1308.6 847.7h.01M1309.0 847.7h.01M1309.5 784.2h.01M1309.8 847.7h.01M1310.5 784.2h.01M1311.0 847.7h.01M1311.5 847.7h.01M1312.2 847.7h.01M1312.9 784.2h.01M1313.4 847.7h.01M1313.6 784.2h.01M1313.8 847.7h.01M1314.8 847.7h.01M1315.7 847.7h.01M1315.9 847.7h.01M1316.4 847.7h.01M1316.9 847.7h.01M1317.3 847.7h.01M1318.2 847.7h.01M1318.5 847.7h.01M1318.7 784.2h.01M1318.9 847.7h.01M1320.1 784.2h.01M1320.5 847.7h.01M1321.6 847.7h.01M1321.9 847.7h.01M1322.5 784.2h.01M1322.8 847.7h.01M1323.2 784.2h.01M1323.4 747.1h.01M1323.6 784.2h.01M1324.5 847.7h.01M1325.0 847.7h.01M1325.4 784.2h.01M1325.6 847.7h.01M1325.8 847.7h.01M1326.5 847.7h.01M1327.1 784.2h.01M1327.6 784.2h.01M1328.2 847.7h.01M1328.7 847.7h.01M1329.3 847.7h.01M1329.7 784.2h.01M1330.1 784.2h.01M1330.4 784.2h.01M1330.6 847.7h.01M1331.0 784.2h.01M1331.4 847.7h.01M1331.6 784.2h.01M1332.2 847.7h.01M1332.5 784.2h.01M1332.7 847.7h.01M1333.5 847.7h.01M1334.1 847.7h.01M1334.5 847.7h.01M1334.9 847.7h.01M1335.1 784.2h.01M1335.4 847.7h.01M1335.8 784.2h.01M1336.2 847.7h.01M1337.6 847.7h.01M1337.8 847.7h.01M1338.8 847.7h.01M1339.2 784.2h.01M1340.0 847.7h.01M1340.6 847.7h.01M1340.8 847.7h.01M1341.0 784.2h.01M1341.8 847.7h.01M1342.4 847.7h.01M1343.0 847.7h.01M1343.3 747.1h.01M1343.5 784.2h.01M1343.7 847.7h.01M1344.3 847.7h.01M1344.9 847.7h.01M1345.7 784.2h.01M1346.1 847.7h.01M1346.6 847.7h.01M1346.8 847.7h.01M1348.0 847.7h.01M1349.1 847.7h.01M1350.0 847.7h.01M1350.6 847.7h.01M1350.8 847.7h.01M1351.7 847.7h.01M1352.6 847.7h.01M1352.8 847.7h.01M1353.3 847.7h.01M1353.7 784.2h.01M1353.9 847.7h.01M1354.3 847.7h.01M1354.8 847.7h.01M1355.5 847.7h.01M1355.9 847.7h.01M1357.3 847.7h.01M1357.8 784.2h.01M1358.0 847.7h.01M1358.7 847.7h.01M1360.1 847.7h.01M1361.5 784.2h.01M1362.4 784.2h.01M1362.6 847.7h.01M1362.9 847.7h.01M1363.3 847.7h.01M1363.4 784.2h.01M1364.1 847.7h.01M1364.3 847.7h.01M1365.1 847.7h.01M1365.6 847.7h.01M1366.1 847.7h.01M1366.8 847.7h.01M1367.5 847.7h.01M1367.8 847.7h.01M1369.3 847.7h.01M1370.8 847.7h.01M1371.3 847.7h.01M1371.8 847.7h.01M1376.2 847.7h.01M1376.5 847.7h.01M1378.0 847.7h.01M1378.6 847.7h.01M1379.5 847.7h.01M1381.7 847.7h.01M1383.5 847.7h.01M1384.2 847.7h.01M1384.8 847.7h.01M1386.0 847.7h.01M1387.5 847.7h.01M1387.9 847.7h.01M1388.9 784.2h.01M1389.2 847.7h.01M1392.2 847.7h.01M1392.7 847.7h.01M1393.1 847.7h.01M1394.6 847.7h.01M1394.8 847.7h.01M1395.5 847.7h.01M1396.3 847.7h.01M1398.0 847.7h.01M1398.9 847.7h.01M1399.9 847.7h.01M1400.5 847.7h.01M1403.5 847.7h.01M1404.4 847.7h.01M1406.5 847.7h.01M1407.3 847.7h.01M1408.4 847.7h.01M1409.6 847.7h.01M1410.2 847.7h.01M1410.5 847.7h.01M1411.6 847.7h.01M1411.9 847.7h.01M1412.7 847.7h.01M1413.2 847.7h.01M1415.1 847.7h.01M1415.9 847.7h.01M1416.7 847.7h.01M1419.6 847.7h.01M1420.0 847.7h.01M1421.2 847.7h.01M1421.6 847.7h.01M1423.6 847.7h.01M1424.1 847.7h.01M1425.9 847.7h.01M1427.0 847.7h.01M1428.4 847.7h.01M1429.2 847.7h.01M1429.9 847.7h.01M1430.4 847.7h.01M1431.3 847.7h.01M1432.6 847.7h.01M1437.7 847.7h.01M1437.8 847.7h.01M1438.9 847.7h.01M1440.2 847.7h.01M1441.2 847.7h.01M1443.2 847.7h.01M1443.9 847.7h.01M1444.3 847.7h.01M1445.4 847.7h.01M1449.0 847.7h.01M1449.4 847.7h.01M1455.5 847.7h.01M1455.9 847.7h.01M1461.2 847.7h.01M1462.3 847.7h.01M1463.1 847.7h.01M1463.3 847.7h.01M1467.9 847.7h.01M1468.7 847.7h.01M1471.7 847.7h.01M1472.5 847.7h.01M1476.9 847.7h.01M1479.0 847.7h.01M1481.9 847.7h.01M1490.2 847.7h.01M1496.1 847.7h.01M1496.4 847.7h.01M1501.0 847.7h.01M1502.8 847.7h.01M1509.7 847.7h.01"/>
<path stroke="#E24A33" d="M197.7 503.4h.01M368.4 512.3h.01M447.7 457.5h.01M500.0 451.2h.01M539.1 426.1h.01M570.2 418.2h.01M596.2 446.5h.01M618.4 405.7h.01M637.9 421.6h.01M655.1 412.5h.01M670.7 407.1h.01M684.8 410.9h.01M697.8 428.9h.01M709.7 397.3h.01M720.8 405.7h.01M731.2 394.6h.01M740.9 389.6h.01M750.0 389.6h.01M758.7 392.7h.01M766.8 375.9h.01M774.6 391.5h.01M782.0 371.8h.01M789.1 370.8h.01M795.8 394.0h.01M802.3 379.2h.01M808.5 374.9h.01M814.5 375.9h.01M820.2 366.4h.01M825.8 369.8h.01M831.2 369.8h.01M836.3 369.8h.01M841.3 367.8h.01M846.2 368.3h.01M850.9 364.5h.01M855.5 365.9h.01M859.9 364.5h.01M864.2 356.0h.01M868.4 359.1h.01M872.5 351.5h.01M876.5 362.6h.01M880.4 356.9h.01M884.2 349.1h.01M887.9 343.7h.01M891.5 356.9h.01M895.0 359.9h.01M898.5 350.2h.01M901.8 346.7h.01M905.2 342.9h.01M908.4 343.7h.01M911.6 351.9h.01M914.7 350.2h.01M917.7 346.0h.01M920.7 340.4h.01M923.6 344.4h.01M926.5 339.0h.01M929.3 356.9h.01M932.1 346.7h.01M934.8 341.5h.01M937.5 342.6h.01M940.1 358.6h.01M942.7 346.0h.01M945.3 351.0h.01M947.8 340.0h.01M950.3 347.5h.01M952.7 339.7h.01M955.1 343.3h.01M957.4 350.6h.01M959.7 339.7h.01M962.0 343.7h.01M964.3 346.7h.01M966.5 351.9h.01M968.7 351.0h.01M970.8 347.9h.01M973.0 344.1h.01M975.1 346.0h.01M977.1 349.1h.01M979.2 344.8h.01M981.2 350.2h.01M983.2 348.7h.01M985.2 337.9h.01M987.1 345.2h.01M989.0 340.8h.01M990.9 347.1h.01M992.8 350.2h.01M994.6 346.3h.01M996.5 342.2h.01M998.3 348.3h.01M1000.1 349.1h.01M1001.8 352.3h.01M1003.6 338.3h.01M1005.3 345.6h.01M1007.0 331.8h.01M1008.7 338.6h.01M1010.4 347.1h.01M1012.0 344.8h.01M1013.6 353.5h.01M1015.3 340.0h.01M1016.9 346.7h.01M1018.5 345.6h.01M1020.0 348.3h.01M1021.6 347.9h.01M1023.1 345.2h.01M1024.6 344.8h.01M1026.1 350.6h.01M1027.6 339.0h.01M1029.1 351.9h.01M1030.6 351.9h.01M1032.0 353.5h.01M1033.5 353.9h.01M1034.9 344.1h.01M1036.3 355.2h.01M1037.7 347.9h.01M1039.1 349.8h.01M1040.5 352.7h.01M1041.8 352.3h.01M1043.2 348.3h.01M1044.5 351.9h.01M1045.9 349.5h.01M1047.2 352.7h.01M1048.5 354.8h.01M1049.8 353.5h.01M1051.1 352.7h.01M1052.3 362.6h.01M1053.6 355.2h.01M1054.8 356.0h.01M1056.1 365.0h.01M1057.3 370.3h.01M1058.5 364.5h.01M1059.8 356.0h.01M1061.0 366.4h.01M1062.2 366.4h.01M1063.3 374.9h.01M1064.5 365.9h.01M1065.7 366.4h.01M1066.8 366.9h.01M1068.0 381.4h.01M1069.1 368.3h.01M1070.3 383.1h.01M1071.4 381.4h.01M1072.5 379.2h.01M1073.6 386.0h.01M1074.7 377.0h.01M1075.8 374.3h.01M1076.9 378.6h.01M1078.0 379.7h.01M1079.1 384.8h.01M1080.1 377.5h.01M1081.2 386.6h.01M1082.2 393.4h.01M1083.3 381.4h.01M1084.3 380.3h.01M1085.3 383.6h.01M1086.4 399.3h.01M1087.4 398.6h.01M1088.4 389.6h.01M1089.4 396.0h.01M1090.4 391.5h.01M1091.4 390.8h.01M1092.4 392.7h.01M1093.3 390.8h.01M1094.3 392.7h.01M1095.3 397.3h.01M1096.2 389.0h.01M1097.2 397.3h.01M1098.1 397.3h.01M1099.1 404.9h.01M1100.0 408.6h.01M1100.9 411.7h.01M1101.9 402.1h.01M1102.8 409.4h.01M1103.7 419.1h.01M1104.6 427.0h.01M1105.5 398.6h.01M1106.4 427.0h.01M1107.3 422.5h.01M1108.2 426.1h.01M1109.1 422.5h.01M1109.9 418.2h.01M1110.8 414.9h.01M1111.7 410.9h.01M1112.5 421.6h.01M1113.4 429.8h.01M1114.3 442.1h.01M1115.1 428.9h.01M1115.9 445.4h.01M1116.8 421.6h.01M1117.6 451.2h.01M1118.5 439.9h.01M1119.3 447.7h.01M1120.1 426.1h.01M1120.9 442.1h.01M1121.7 441.0h.01M1122.5 434.7h.01M1123.3 446.5h.01M1124.1 456.2h.01M1124.9 445.4h.01M1125.7 447.7h.01M1126.5 458.8h.01M1127.3 441.0h.01M1128.1 452.4h.01M1128.9 468.4h.01M1129.6 456.2h.01M1130.4 472.9h.01M1131.2 467.0h.01M1131.9 460.1h.01M1132.7 472.9h.01M1133.4 457.5h.01M1134.2 458.8h.01M1134.9 489.6h.01M1135.7 474.4h.01M1136.4 479.2h.01M1137.2 457.5h.01M1137.9 489.6h.01M1138.6 464.1h.01M1139.4 471.4h.01M1140.1 482.5h.01M1140.8 469.9h.01M1141.5 477.6h.01M1142.2 457.5h.01M1142.9 476.0h.01M1143.6 482.5h.01M1144.3 499.2h.01M1145.0 464.1h.01M1145.7 505.5h.01M1146.4 472.9h.01M1147.1 493.3h.01M1147.8 489.6h.01M1148.5 480.8h.01M1149.2 497.2h.01M1149.9 514.7h.01M1150.5 491.4h.01M1151.2 487.7h.01M1151.9 519.6h.01M1152.5 510.0h.01M1153.2 503.4h.01M1153.9 536.3h.01M1154.5 514.7h.01M1155.2 539.4h.01M1155.8 484.2h.01M1156.5 501.3h.01M1157.1 507.7h.01M1157.8 517.1h.01M1158.4 497.2h.01M1159.1 527.6h.01M1159.7 503.4h.01M1160.3 512.3h.01M1161.0 546.0h.01M1161.6 556.8h.01M1162.2 530.4h.01M1162.8 546.0h.01M1163.5 542.6h.01M1164.1 522.2h.01M1164.7 530.4h.01M1165.3 530.4h.01M1165.9 588.3h.01M1166.5 530.4h.01M1167.1 514.7h.01M1167.7 546.0h.01M1168.3 556.8h.01M1168.9 549.4h.01M1169.5 522.2h.01M1170.1 560.6h.01M1170.7 560.6h.01M1171.3 612.9h.01M1171.9 564.7h.01M1172.5 549.4h.01M1173.1 527.6h.01M1173.7 556.8h.01M1174.2 519.6h.01M1174.8 553.0h.01M1175.4 578.1h.01M1176.0 549.4h.01M1176.5 549.4h.01M1177.1 556.8h.01M1177.7 553.0h.01M1178.2 522.2h.01M1178.8 527.6h.01M1179.4 569.0h.01M1179.9 569.0h.01M1180.5 530.4h.01M1181.0 569.0h.01M1181.6 560.6h.01M1182.1 628.2h.01M1182.7 578.1h.01M1183.2 530.4h.01M1183.8 546.0h.01M1184.3 569.0h.01M1184.9 564.7h.01M1185.4 593.9h.01M1185.9 599.8h.01M1186.5 583.1h.01M1187.0 646.5h.01M1187.5 583.1h.01M1188.1 578.1h.01M1188.6 588.3h.01M1189.1 606.1h.01M1189.6 564.7h.01M1190.2 612.9h.01M1190.7 620.2h.01M1191.2 564.7h.01M1191.7 620.2h.01M1192.2 636.9h.01M1192.8 560.6h.01M1193.3 606.1h.01M1193.8 599.8h.01M1194.3 606.1h.01M1194.8 628.2h.01M1195.3 606.1h.01M1195.8 560.6h.01M1196.3 636.9h.01M1196.8 620.2h.01M1197.3 620.2h.01M1197.8 700.4h.01M1198.3 646.5h.01M1198.8 646.5h.01M1199.3 573.4h.01M1199.8 593.9h.01M1200.3 612.9h.01M1200.8 628.2h.01M1201.2 620.2h.01M1201.7 628.2h.01M1202.2 636.9h.01M1202.7 593.9h.01M1203.2 669.6h.01M1203.7 628.2h.01M1204.1 669.6h.01M1204.6 669.6h.01M1205.1 669.6h.01M1205.6 700.4h.01M1206.0 612.9h.01M1206.5 636.9h.01M1207.0 700.4h.01M1207.4 612.9h.01M1207.9 683.7h.01M1208.4 700.4h.01M1208.8 700.4h.01M1209.3 747.1h.01M1209.8 747.1h.01M1210.2 720.8h.01M1210.7 646.5h.01M1211.1 720.8h.01M1211.6 620.2h.01M1212.0 628.2h.01M1212.5 657.3h.01M1213.0 669.6h.01M1213.4 669.6h.01M1213.9 747.1h.01M1214.3 628.2h.01M1214.7 669.6h.01M1215.2 669.6h.01M1215.6 683.7h.01M1216.1 683.7h.01M1216.5 784.2h.01M1217.0 669.6h.01M1217.4 657.3h.01M1217.8 683.7h.01M1218.3 747.1h.01M1218.7 636.9h.01M1219.1 700.4h.01M1219.6 720.8h.01M1220.0 657.3h.01M1220.9 636.9h.01M1221.3 720.8h.01M1221.7 669.6h.01M1222.1 683.7h.01M1222.6 700.4h.01M1223.0 683.7h.01M1223.4 700.4h.01M1223.8 683.7h.01M1224.3 669.6h.01M1224.7 784.2h.01M1225.1 720.8h.01M1225.5 683.7h.01M1225.9 747.1h.01M1226.3 700.4h.01M1226.8 720.8h.01M1227.2 700.4h.01M1227.6 683.7h.01M1228.0 636.9h.01M1228.4 784.2h.01M1228.8 720.8h.01M1229.2 636.9h.01M1229.6 620.2h.01M1230.0 784.2h.01M1230.4 669.6h.01M1230.8 657.3h.01M1231.2 683.7h.01M1231.6 747.1h.01M1232.0 720.8h.01M1232.4 747.1h.01M1232.8 700.4h.01M1233.2 784.2h.01M1233.6 669.6h.01M1234.0 784.2h.01M1234.4 784.2h.01M1234.8 847.7h.01M1235.2 720.8h.01M1235.6 747.1h.01M1236.0 847.7h.01M1236.4 784.2h.01M1236.7 720.8h.01M1237.1 669.6h.01M1237.5 657.3h.01M1238.3 784.2h.01M1238.7 747.1h.01M1239.0 683.7h.01M1239.4 683.7h.01M1239.8 784.2h.01M1240.2 683.7h.01M1240.6 720.8h.01M1240.9 847.7h.01M1241.3 720.8h.01M1242.1 747.1h.01M1243.2 784.2h.01M1243.6 747.1h.01M1243.9 683.7h.01M1244.3 700.4h.01M1244.7 657.3h.01M1245.0 747.1h.01M1245.4 784.2h.01M1245.8 683.7h.01M1246.1 747.1h.01M1246.8 683.7h.01M1247.2 747.1h.01M1247.6 847.7h.01M1247.9 847.7h.01M1248.3 847.7h.01M1249.0 784.2h.01M1249.4 784.2h.01M1249.7 669.6h.01M1250.1 720.8h.01M1250.4 720.8h.01M1250.8 683.7h.01M1251.1 747.1h.01M1251.5 747.1h.01M1251.8 720.8h.01M1252.5 784.2h.01M1252.9 720.8h.01M1253.6 784.2h.01M1253.9 784.2h.01M1254.3 683.7h.01M1254.6 700.4h.01M1255.0 847.7h.01M1255.3 784.2h.01M1256.0 784.2h.01M1256.3 784.2h.01M1257.0 784.2h.01M1257.4 784.2h.01M1257.7 720.8h.01M1258.0 784.2h.01M1258.4 747.1h.01M1258.7 700.4h.01M1259.0 784.2h.01M1259.4 669.6h.01M1259.7 784.2h.01M1260.4 784.2h.01M1260.7 847.7h.01M1261.0 700.4h.01M1261.4 747.1h.01M1261.7 784.2h.01M1262.0 683.7h.01M1262.4 847.7h.01M1262.7 720.8h.01M1263.0 784.2h.01M1263.3 847.7h.01M1264.0 720.8h.01M1264.3 669.6h.01M1264.6 700.4h.01M1265.0 747.1h.01M1265.3 700.4h.01M1265.9 747.1h.01M1266.2 847.7h.01M1266.6 847.7h.01M1266.9 847.7h.01M1267.2 784.2h.01M1267.5 747.1h.01M1267.8 784.2h.01M1268.2 747.1h.01M1268.8 784.2h.01M1269.4 847.7h.01M1269.7 720.8h.01M1270.0 720.8h.01M1270.4 784.2h.01M1271.0 847.7h.01M1271.3 784.2h.01M1271.6 747.1h.01M1271.9 747.1h.01M1272.2 847.7h.01M1272.5 847.7h.01M1272.8 847.7h.01M1273.1 747.1h.01M1273.4 784.2h.01M1274.1 747.1h.01M1274.4 720.8h.01M1275.0 847.7h.01M1275.3 747.1h.01M1275.9 720.8h.01M1276.2 784.2h.01M1277.1 720.8h.01M1277.4 784.2h.01M1277.7 657.3h.01M1278.0 847.7h.01M1278.3 747.1h.01M1278.5 847.7h.01M1278.8 847.7h.01M1279.4 747.1h.01M1279.7 784.2h.01M1280.0 747.1h.01M1280.3 747.1h.01M1280.9 720.8h.01M1281.8 784.2h.01M1282.3 847.7h.01M1282.9 847.7h.01M1283.5 847.7h.01M1283.8 847.7h.01M1284.1 747.1h.01M1284.4 720.8h.01M1284.6 847.7h.01M1284.9 847.7h.01M1285.2 784.2h.01M1285.5 847.7h.01M1286.1 847.7h.01M1286.3 847.7h.01M1286.9 847.7h.01M1287.2 720.8h.01M1288.0 784.2h.01M1288.3 847.7h.01M1288.8 784.2h.01M1289.4 784.2h.01M1289.7 847.7h.01M1290.2 847.7h.01M1290.8 847.7h.01M1291.0 747.1h.01M1291.3 747.1h.01M1291.6 847.7h.01M1291.9 847.7h.01M1292.4 747.1h.01M1293.2 700.4h.01M1293.5 847.7h.01M1293.7 784.2h.01M1294.0 847.7h.01M1294.3 784.2h.01M1294.8 847.7h.01M1295.1 784.2h.01M1295.3 847.7h.01M1295.9 847.7h.01M1296.4 747.1h.01M1296.7 784.2h.01M1296.9 847.7h.01M1297.5 847.7h.01M1297.7 747.1h.01M1298.0 784.2h.01M1299.0 747.1h.01M1299.3 784.2h.01M1300.3 847.7h.01M1300.6 784.2h.01M1300.8 784.2h.01M1301.1 847.7h.01M1301.3 720.8h.01M1301.6 847.7h.01M1302.3 847.7h.01M1302.9 847.7h.01M1303.4 847.7h.01M1304.1 784.2h.01M1304.4 847.7h.01M1304.9 784.2h.01M1305.6 847.7h.01M1305.9 784.2h.01M1306.4 847.7h.01M1306.6 784.2h.01M1306.8 847.7h.01M1307.1 784.2h.01M1307.3 847.7h.01M1308.1 784.2h.01M1308.3 784.2h.01M1309.0 847.7h.01M1309.8 784.2h.01M1310.3 784.2h.01M1311.0 847.7h.01M1311.2 747.1h.01M1311.5 784.2h.01M1311.9 784.2h.01M1312.2 847.7h.01M1312.7 847.7h.01M1313.1 847.7h.01M1313.6 847.7h.01M1313.8 847.7h.01M1314.3 784.2h.01M1314.5 847.7h.01M1314.8 784.2h.01M1315.2 847.7h.01M1315.5 847.7h.01M1316.2 747.1h.01M1316.4 784.2h.01M1316.6 847.7h.01M1316.9 847.7h.01M1317.3 847.7h.01M1318.0 847.7h.01M1318.2 784.2h.01M1318.7 784.2h.01M1318.9 847.7h.01M1319.6 784.2h.01M1319.8 847.7h.01M1320.3 847.7h.01M1320.7 784.2h.01M1321.0 784.2h.01M1321.2 747.1h.01M1321.4 847.7h.01M1321.6 784.2h.01M1321.9 847.7h.01M1322.5 847.7h.01M1322.8 784.2h.01M1323.2 847.7h.01M1323.6 847.7h.01M1324.3 847.7h.01M1325.2 847.7h.01M1325.4 847.7h.01M1325.6 784.2h.01M1326.3 747.1h.01M1326.5 847.7h.01M1327.4 847.7h.01M1327.8 747.1h.01M1328.2 784.2h.01M1328.4 847.7h.01M1328.9 847.7h.01M1329.3 784.2h.01M1330.1 847.7h.01M1330.4 847.7h.01M1331.2 784.2h.01M1332.0 847.7h.01M1332.5 847.7h.01M1333.1 847.7h.01M1333.3 847.7h.01M1333.9 847.7h.01M1335.1 847.7h.01M1335.4 847.7h.01M1335.8 847.7h.01M1336.6 784.2h.01M1336.8 847.7h.01M1337.4 847.7h.01M1337.8 847.7h.01M1338.0 747.1h.01M1338.4 847.7h.01M1338.8 847.7h.01M1339.4 847.7h.01M1340.6 847.7h.01M1340.8 784.2h.01M1341.6 847.7h.01M1342.4 847.7h.01M1342.8 784.2h.01M1343.2 847.7h.01M1343.9 847.7h.01M1344.3 847.7h.01M1345.5 784.2h.01M1345.7 847.7h.01M1346.1 847.7h.01M1346.2 784.2h.01M1346.6 784.2h.01M1346.8 784.2h.01M1347.0 847.7h.01M1347.6 847.7h.01M1347.8 784.2h.01M1348.1 847.7h.01M1348.7 847.7h.01M1349.3 784.2h.01M1349.5 847.7h.01M1350.6 847.7h.01M1351.0 847.7h.01M1351.9 847.7h.01M1352.2 784.2h.01M1353.3 784.2h.01M1353.9 847.7h.01M1354.3 847.7h.01M1355.7 847.7h.01M1356.2 847.7h.01M1356.6 847.7h.01M1357.5 847.7h.01M1358.0 847.7h.01M1358.9 847.7h.01M1359.3 847.7h.01M1359.4 784.2h.01M1359.8 847.7h.01M1360.7 847.7h.01M1361.4 847.7h.01M1361.9 847.7h.01M1362.7 847.7h.01M1363.3 847.7h.01M1363.9 847.7h.01M1364.4 847.7h.01M1365.0 847.7h.01M1367.0 847.7h.01M1367.3 847.7h.01M1368.3 847.7h.01M1368.8 847.7h.01M1369.8 847.7h.01M1370.3 847.7h.01M1370.9 847.7h.01M1371.9 847.7h.01M1372.4 847.7h.01M1373.0 847.7h.01M1373.4 847.7h.01M1374.0 847.7h.01M1374.3 847.7h.01M1375.3 847.7h.01M1376.7 847.7h.01M1377.5 847.7h.01M1377.8 847.7h.01M1378.4 847.7h.01M1378.9 847.7h.01M1380.0 847.7h.01M1380.1 784.2h.01M1380.4 847.7h.01M1381.5 847.7h.01M1382.0 847.7h.01M1382.3 847.7h.01M1382.9 847.7h.01M1383.9 847.7h.01M1384.4 847.7h.01M1385.3 847.7h.01M1386.7 847.7h.01M1386.9 847.7h.01M1387.6 847.7h.01M1387.8 847.7h.01M1388.8 847.7h.01M1389.4 847.7h.01M1390.7 847.7h.01M1390.8 847.7h.01M1392.0 847.7h.01M1392.8 847.7h.01M1393.7 847.7h.01M1395.2 847.7h.01M1395.3 847.7h.01M1395.8 847.7h.01M1396.6 847.7h.01M1398.5 847.7h.01M1398.8 847.7h.01M1399.5 847.7h.01M1400.0 847.7h.01M1400.7 847.7h.01M1401.0 847.7h.01M1401.4 847.7h.01M1401.8 847.7h.01M1402.6 847.7h.01M1404.0 847.7h.01M1404.5 847.7h.01M1405.6 847.7h.01M1406.6 847.7h.01M1407.0 847.7h.01M1407.5 847.7h.01M1409.1 847.7h.01M1411.5 847.7h.01M1412.1 847.7h.01M1412.5 847.7h.01M1413.4 847.7h.01M1413.8 847.7h.01M1415.3 847.7h.01M1415.8 847.7h.01M1416.3 847.7h.01M1417.6 847.7h.01M1418.2 847.7h.01M1419.0 847.7h.01M1419.9 847.7h.01M1420.4 847.7h.01M1421.1 847.7h.01M1421.8 847.7h.01M1422.6 847.7h.01M1423.1 847.7h.01M1423.3 847.7h.01M1424.0 847.7h.01M1424.4 847.7h.01M1424.9 847.7h.01M1425.5 847.7h.01M1426.9 847.7h.01M1427.3 847.7h.01M1428.1 847.7h.01M1431.7 847.7h.01M1432.2 847.7h.01M1432.4 847.7h.01M1432.9 847.7h.01M1434.2 847.7h.01M1434.3 847.7h.01M1435.2 847.7h.01M1436.0 847.7h.01M1436.5 847.7h.01M1436.8 847.7h.01M1438.0 847.7h.01M1438.9 847.7h.01M1440.8 847.7h.01M1441.5 847.7h.01M1442.3 847.7h.01M1444.0 847.7h.01M1445.3 847.7h.01M1446.5 784.2h.01M1450.0 847.7h.01M1450.5 847.7h.01M1450.9 847.7h.01M1452.8 847.7h.01M1454.7 847.7h.01M1456.5 847.7h.01M1457.2 847.7h.01M1457.6 847.7h.01M1457.8 847.7h.01M1458.6 847.7h.01M1459.0 847.7h.01M1459.5 847.7h.01M1460.7 847.7h.01M1461.0 847.7h.01M1462.8 847.7h.01M1464.3 847.7h.01M1466.2 847.7h.01M1466.9 847.7h.01M1467.6 847.7h.01M1473.2 847.7h.01M1475.3 847.7h.01M1481.7 847.7h.01M1482.2 847.7h.01M1482.3 847.7h.01M1484.2 847.7h.01M1489.2 847.7h.01M1490.1 847.7h.01M1492.6 847.7h.01M1493.4 847.7h.01M1494.2 847.7h.01M1501.4 847.7h.01M1506.4 847.7h.01M1516.6 847.7h.01M1527.7 847.7h.01M1545.7 847.7h.01M1554.3 847.7h.01M1567.5 847.7h.01M1581.7 847.7h.01M1588.6 847.7h.01"/>
</g>
<path d="M305.4 848.6v10M305.4 67.7v-10M663.1 848.6v10M663.1 67.7v-10M1020.8 848.6v10M1020.8 67.7v-10M1378.5 848.6v10M1378.5 67.7v-10M117.4 847.7h-10M117.4 636.9h-10M117.4 426.1h-10M117.4 215.3h-10" stroke="#555" stroke-width="1.5" fill="none"/>
<path d="M118.4 848.6v4.4M118.4 67.2v-4.6M163.1 848.6v4.4M163.1 67.2v-4.6M197.7 848.6v4.4M197.7 67.2v-4.6M226.0 848.6v4.4M226.0 67.2v-4.6M250.0 848.6v4.4M250.0 67.2v-4.6M270.7 848.6v4.4M270.7 67.2v-4.6M289.0 848.6v4.4M289.0 67.2v-4.6M413.1 848.6v4.4M413.1 67.2v-4.6M476.1 848.6v4.4M476.1 67.2v-4.6M520.8 848.6v4.4M520.8 67.2v-4.6M555.4 848.6v4.4M555.4 67.2v-4.6M583.7 848.6v4.4M583.7 67.2v-4.6M607.7 848.6v4.4M607.7 67.2v-4.6M628.4 848.6v4.4M628.4 67.2v-4.6M646.7 848.6v4.4M646.7 67.2v-4.6M770.8 848.6v4.4M770.8 67.2v-4.6M833.8 848.6v4.4M833.8 67.2v-4.6M878.5 848.6v4.4M878.5 67.2v-4.6M913.1 848.6v4.4M913.1 67.2v-4.6M941.4 848.6v4.4M941.4 67.2v-4.6M965.4 848.6v4.4M965.4 67.2v-4.6M986.1 848.6v4.4M986.1 67.2v-4.6M1004.4 848.6v4.4M1004.4 67.2v-4.6M1128.5 848.6v4.4M1128.5 67.2v-4.6M1191.5 848.6v4.4M1191.5 67.2v-4.6M1236.2 848.6v4.4M1236.2 67.2v-4.6M1270.8 848.6v4.4M1270.8 67.2v-4.6M1299.1 848.6v4.4M1299.1 67.2v-4.6M1323.1 848.6v4.4M1323.1 67.2v-4.6M1343.8 848.6v4.4M1343.8 67.2v-4.6M1362.1 848.6v4.4M1362.1 67.2v-4.6M1486.2 848.6v4.4M1486.2 67.2v-4.6M1549.2 848.6v4.4M1549.2 67.2v-4.6M1593.9 848.6v4.4M1593.9 67.2v-4.6M1628.5 848.6v4.4M1628.5 67.2v-4.6M117.4 784.2h-4.4M117.4 747.1h-4.4M117.4 720.8h-4.4M117.4 700.4h-4.4M117.4 683.7h-4.4M117.4 669.6h-4.4M117.4 657.3h-4.4M117.4 646.5h-4.4M117.4 573.4h-4.4M117.4 536.3h-4.4M117.4 510.0h-4.4M117.4 489.6h-4.4M117.4 472.9h-4.4M117.4 458.8h-4.4M117.4 446.5h-4.4M117.4 435.7h-4.4M117.4 362.6h-4.4M117.4 325.5h-4.4M117.4 299.2h-4.4M117.4 278.8h-4.4M117.4 262.1h-4.4M117.4 248.0h-4.4M117.4 235.7h-4.4M117.4 224.9h-4.4M117.4 151.8h-4.4M117.4 114.7h-4.4M117.4 88.4h-4.4M117.4 68.0h-4.4" stroke="#555" stroke-width="1.15" fill="none"/>
<path d="M1628.4 677.2h11.6M1628.4 466.5h11.6M1628.4 255.7h11.6" stroke="#333" stroke-width="1.5" fill="none"/>
<path d="M1628.7 824.6h6.3M1628.7 787.5h6.3M1628.7 761.1h6.3M1628.7 740.7h6.3M1628.7 724.0h6.3M1628.7 709.9h6.3M1628.7 697.7h6.3M1628.7 686.9h6.3M1628.7 613.8h6.3M1628.7 576.7h6.3M1628.7 550.3h6.3M1628.7 529.9h6.3M1628.7 513.2h6.3M1628.7 499.1h6.3M1628.7 486.9h6.3M1628.7 476.1h6.3M1628.7 403.0h6.3M1628.7 365.9h6.3M1628.7 339.5h6.3M1628.7 319.1h6.3M1628.7 302.4h6.3M1628.7 288.3h6.3M1628.7 276.1h6.3M1628.7 265.3h6.3M1628.7 192.2h6.3M1628.7 155.1h6.3M1628.7 128.7h6.3M1628.7 108.3h6.3M1628.7 91.6h6.3M1628.7 77.5h6.3" stroke="#222" stroke-width="1.15" fill="none"/>
<g font-family="'DejaVu Sans','Liberation Sans',sans-serif">
<text x="275.3" y="893.5" text-anchor="start" fill="#555" font-size="26.7">10<tspan dy="-12.2" dx="2.4" font-size="18.8">-2</tspan></text>
<text x="633.0" y="893.5" text-anchor="start" fill="#555" font-size="26.7">10<tspan dy="-12.2" dx="2.4" font-size="18.8">-1</tspan></text>
<text x="994.8" y="893.5" text-anchor="start" fill="#555" font-size="26.7">10<tspan dy="-12.2" dx="2.4" font-size="18.8">0</tspan></text>
<text x="1352.5" y="893.5" text-anchor="start" fill="#555" font-size="26.7">10<tspan dy="-12.2" dx="2.4" font-size="18.8">1</tspan></text>
<text x="44.8" y="856.9" text-anchor="start" fill="#555" font-size="26.7">10<tspan dy="-12.2" dx="2.4" font-size="18.8">0</tspan></text>
<text x="44.8" y="646.1" text-anchor="start" fill="#555" font-size="26.7">10<tspan dy="-12.2" dx="2.4" font-size="18.8">1</tspan></text>
<text x="44.8" y="435.3" text-anchor="start" fill="#555" font-size="26.7">10<tspan dy="-12.2" dx="2.4" font-size="18.8">2</tspan></text>
<text x="44.8" y="224.5" text-anchor="start" fill="#555" font-size="26.7">10<tspan dy="-12.2" dx="2.4" font-size="18.8">3</tspan></text>
<text x="1650.5" y="264.9" text-anchor="start" fill="#000" font-size="26.7">10<tspan dy="-12.2" dx="2.4" font-size="18.8">-2</tspan></text>
<text x="1650.5" y="475.8" text-anchor="start" fill="#000" font-size="26.7">10<tspan dy="-12.2" dx="2.4" font-size="18.8">-3</tspan></text>
<text x="1650.5" y="686.5" text-anchor="start" fill="#000" font-size="26.7">10<tspan dy="-12.2" dx="2.4" font-size="18.8">-4</tspan></text>
<text transform="translate(25.4 459.2) rotate(-90)" text-anchor="middle" font-size="32.6" fill="#555">Flux Rope Counts (Wind)</text>
<text transform="translate(1744.3 457.7) rotate(-90)" text-anchor="middle" font-size="27.9" fill="#000">Frequency</text>
<text y="627.6" font-size="29.55"><tspan x="421.0" fill="#000">min:</tspan><tspan x="597.0" fill="#000000">0.0003</tspan><tspan x="763.0" fill="#348ABD">0.0003</tspan><tspan x="929.0" fill="#E24A33">0.0011</tspan></text>
<text y="670.4" font-size="29.55"><tspan x="421.0" fill="#000">max:</tspan><tspan x="597.0" fill="#000000">119.6685</tspan><tspan x="763.0" fill="#348ABD">119.6685</tspan><tspan x="929.0" fill="#E24A33">58.5635</tspan></text>
<text y="713.1" font-size="29.55"><tspan x="421.0" fill="#000">mean:</tspan><tspan x="597.0" fill="#000000">1.2641</tspan><tspan x="763.0" fill="#348ABD">1.3698</tspan><tspan x="929.0" fill="#E24A33">1.2056</tspan></text>
<text y="755.9" font-size="29.55"><tspan x="421.0" fill="#000">median:</tspan><tspan x="597.0" fill="#000000">1.0626</tspan><tspan x="763.0" fill="#348ABD">1.1695</tspan><tspan x="929.0" fill="#E24A33">1.0181</tspan></text>
<text y="798.6" font-size="29.55"><tspan x="421.0" fill="#000">mode:</tspan><tspan x="597.0" fill="#000000">0.4850</tspan><tspan x="763.0" fill="#348ABD">0.2850</tspan><tspan x="929.0" fill="#E24A33">0.9150</tspan></text>
<rect x="132.6" y="83.2" width="346.2" height="139.6" fill="#E5E5E5" stroke="#fff" stroke-width="1.5"/>
<circle cx="154" cy="107.3" r="4.7" fill="#000000"/><circle cx="195.4" cy="107.3" r="4.7" fill="#000000"/>
<text x="228.6" y="117.7" font-size="29.8" fill="#000">All Vsw</text>
<circle cx="154" cy="150.9" r="4.7" fill="#348ABD"/><circle cx="195.4" cy="150.9" r="4.7" fill="#348ABD"/>
<text x="228.6" y="161.3" font-size="29.8" fill="#000">Vsw&lt;400km/s</text>
<circle cx="154" cy="194.5" r="4.7" fill="#E24A33"/><circle cx="195.4" cy="194.5" r="4.7" fill="#E24A33"/>
<text x="228.6" y="204.9" font-size="29.8" fill="#000">Vsw&gt;=400km/s</text>
</g>
<g font-family="'Liberation Serif','DejaVu Serif',serif" fill="#000"><text x="847.9" y="34.9" font-size="50">(</text><text x="885.2" y="34.9" font-size="50">)</text><text x="863.0" y="34.3" font-size="41" font-family="'DejaVu Serif','Liberation Serif',serif">a</text></g>
<g font-family="'Liberation Serif','DejaVu Serif',serif" fill="#555">
<text x="833.3" y="942.2" font-size="43">&lt;</text><text x="865.9" y="935.3" font-size="32" font-style="italic">β</text><text x="888.9" y="942.2" font-size="43">&gt;</text>
</g>
<clipPath id="c982"><rect x="119.5" y="1051.9" width="1508.5" height="776.6"/></clipPath>
<rect x="119.5" y="1051.9" width="1508.5" height="776.6" fill="#E8E8E8"/>
<path d="M305.4 1051.9V1828.5M663.1 1051.9V1828.5M1020.8 1051.9V1828.5M1378.5 1051.9V1828.5M119.5 1619.2H1628.0M119.5 1408.4H1628.0M119.5 1197.6H1628.0" stroke="#fff" stroke-width="1.7" fill="none"/>
<g clip-path="url(#c982)" fill="none" stroke-linecap="round" stroke-width="9.2">
<path stroke="#111111" d="M197.7 1324.9h.01M368.4 1279.9h.01M447.7 1256.9h.01M500.0 1249.9h.01M539.1 1245.3h.01M570.2 1242.3h.01M596.2 1237.9h.01M618.4 1241.1h.01M637.9 1235.5h.01M655.1 1230.4h.01M670.7 1223.9h.01M684.8 1224.3h.01M697.8 1227.5h.01M709.7 1218.9h.01M720.8 1222.1h.01M731.2 1217.2h.01M740.9 1214.2h.01M750.0 1211.8h.01M758.7 1210.5h.01M766.8 1210.0h.01M774.6 1206.5h.01M782.0 1203.9h.01M789.1 1203.3h.01M795.8 1206.8h.01M802.3 1205.7h.01M808.5 1207.6h.01M814.5 1205.4h.01M820.2 1206.1h.01M825.8 1201.1h.01M831.2 1200.9h.01M836.3 1211.1h.01M841.3 1208.3h.01M846.2 1206.5h.01M850.9 1206.1h.01M855.5 1209.4h.01M859.9 1207.1h.01M864.2 1204.7h.01M868.4 1208.0h.01M872.5 1204.7h.01M876.5 1209.7h.01M880.4 1211.4h.01M884.2 1209.0h.01M887.9 1208.3h.01M891.5 1212.6h.01M895.0 1215.4h.01M898.5 1217.6h.01M901.8 1212.2h.01M905.2 1210.9h.01M908.4 1216.0h.01M911.6 1217.5h.01M914.7 1215.1h.01M917.7 1221.4h.01M920.7 1221.3h.01M923.6 1223.8h.01M926.5 1226.4h.01M929.3 1231.7h.01M932.1 1233.7h.01M934.8 1234.1h.01M937.5 1232.9h.01M940.1 1232.2h.01M942.7 1234.5h.01M945.3 1239.8h.01M947.8 1244.1h.01M950.3 1252.7h.01M952.7 1247.3h.01M955.1 1247.6h.01M957.4 1252.5h.01M959.7 1256.9h.01M962.0 1256.6h.01M964.3 1257.3h.01M966.5 1258.5h.01M968.7 1263.8h.01M970.8 1258.0h.01M973.0 1264.2h.01M975.1 1262.0h.01M977.1 1267.7h.01M979.2 1275.7h.01M981.2 1278.8h.01M983.2 1275.3h.01M985.2 1283.6h.01M987.1 1284.3h.01M989.0 1285.9h.01M990.9 1293.2h.01M992.8 1291.4h.01M994.6 1292.2h.01M996.5 1291.4h.01M998.3 1293.2h.01M1000.1 1291.4h.01M1001.8 1298.5h.01M1003.6 1305.1h.01M1005.3 1308.4h.01M1007.0 1310.9h.01M1008.7 1314.5h.01M1010.4 1315.8h.01M1012.0 1322.0h.01M1013.6 1320.6h.01M1015.3 1318.5h.01M1016.9 1326.0h.01M1018.5 1327.1h.01M1020.0 1329.4h.01M1021.6 1336.2h.01M1023.1 1323.8h.01M1024.6 1345.4h.01M1026.1 1335.4h.01M1027.6 1331.4h.01M1029.1 1337.1h.01M1030.6 1342.2h.01M1032.0 1337.5h.01M1033.5 1344.0h.01M1034.9 1347.7h.01M1036.3 1344.0h.01M1037.7 1347.3h.01M1039.1 1365.4h.01M1040.5 1351.6h.01M1041.8 1367.1h.01M1043.2 1373.1h.01M1044.5 1363.7h.01M1045.9 1359.3h.01M1047.2 1372.5h.01M1048.5 1372.5h.01M1049.8 1385.8h.01M1051.1 1394.0h.01M1052.3 1385.1h.01M1053.6 1383.0h.01M1054.8 1389.4h.01M1056.1 1378.9h.01M1057.3 1398.8h.01M1058.5 1386.5h.01M1059.8 1403.9h.01M1061.0 1402.2h.01M1062.2 1394.8h.01M1063.3 1409.3h.01M1064.5 1391.7h.01M1065.7 1398.0h.01M1066.8 1412.1h.01M1068.0 1417.0h.01M1069.1 1427.7h.01M1070.3 1437.2h.01M1071.4 1441.1h.01M1072.5 1425.5h.01M1073.6 1402.2h.01M1074.7 1426.6h.01M1075.8 1431.1h.01M1076.9 1432.3h.01M1078.0 1431.1h.01M1079.1 1439.8h.01M1080.1 1445.1h.01M1081.2 1446.4h.01M1082.2 1428.8h.01M1083.3 1459.9h.01M1084.3 1428.8h.01M1085.3 1445.1h.01M1086.4 1466.5h.01M1087.4 1424.4h.01M1088.4 1452.2h.01M1089.4 1477.5h.01M1090.4 1468.3h.01M1091.4 1461.5h.01M1092.4 1490.0h.01M1093.3 1479.5h.01M1094.3 1487.8h.01M1095.3 1455.2h.01M1096.2 1473.7h.01M1097.2 1475.6h.01M1098.1 1459.9h.01M1099.1 1477.5h.01M1100.0 1464.8h.01M1100.9 1463.1h.01M1101.9 1483.6h.01M1102.8 1475.6h.01M1103.7 1485.7h.01M1104.6 1468.3h.01M1105.5 1497.0h.01M1106.4 1497.0h.01M1107.3 1470.0h.01M1108.2 1507.2h.01M1109.1 1485.7h.01M1109.9 1504.5h.01M1110.8 1504.5h.01M1111.7 1570.6h.01M1112.5 1494.6h.01M1113.4 1490.0h.01M1114.3 1485.7h.01M1115.1 1490.0h.01M1115.9 1524.9h.01M1116.8 1531.7h.01M1117.6 1531.7h.01M1118.5 1518.6h.01M1119.3 1619.2h.01M1120.1 1501.9h.01M1120.9 1524.9h.01M1121.7 1582.1h.01M1122.5 1518.6h.01M1123.3 1512.7h.01M1124.1 1518.6h.01M1124.9 1610.5h.01M1125.7 1521.7h.01M1126.5 1542.9h.01M1127.3 1494.6h.01M1128.1 1531.7h.01M1128.9 1524.9h.01M1129.6 1539.1h.01M1130.4 1551.3h.01M1131.2 1535.3h.01M1131.9 1524.9h.01M1132.7 1547.0h.01M1133.4 1555.7h.01M1134.2 1521.7h.01M1134.9 1602.5h.01M1135.7 1535.3h.01M1136.4 1551.3h.01M1137.2 1531.7h.01M1137.9 1576.2h.01M1138.6 1555.7h.01M1139.4 1576.2h.01M1140.1 1560.4h.01M1140.8 1551.3h.01M1141.5 1628.8h.01M1142.2 1565.4h.01M1142.9 1560.4h.01M1143.6 1610.5h.01M1144.3 1570.6h.01M1145.0 1619.2h.01M1145.7 1570.6h.01M1146.4 1582.1h.01M1147.1 1666.0h.01M1147.8 1588.4h.01M1148.5 1576.2h.01M1149.2 1628.8h.01M1149.9 1610.5h.01M1150.5 1582.1h.01M1151.2 1588.4h.01M1151.9 1619.2h.01M1152.5 1619.2h.01M1153.2 1602.5h.01M1153.9 1703.1h.01M1154.5 1610.5h.01M1155.2 1628.8h.01M1155.8 1610.5h.01M1156.5 1639.6h.01M1157.1 1628.8h.01M1157.8 1595.2h.01M1158.4 1610.5h.01M1159.1 1651.9h.01M1159.7 1628.8h.01M1160.3 1595.2h.01M1161.0 1619.2h.01M1161.6 1628.8h.01M1162.2 1628.8h.01M1162.8 1588.4h.01M1163.5 1619.2h.01M1164.1 1666.0h.01M1164.7 1619.2h.01M1165.3 1628.8h.01M1165.9 1666.0h.01M1166.5 1639.6h.01M1167.1 1628.8h.01M1167.7 1628.8h.01M1168.3 1588.4h.01M1168.9 1619.2h.01M1169.5 1682.7h.01M1170.1 1666.0h.01M1170.7 1602.5h.01M1171.3 1588.4h.01M1171.9 1729.4h.01M1172.5 1729.4h.01M1173.1 1729.4h.01M1173.7 1729.4h.01M1174.2 1639.6h.01M1174.8 1729.4h.01M1175.4 1666.0h.01M1176.0 1639.6h.01M1176.5 1651.9h.01M1177.1 1666.0h.01M1177.7 1703.1h.01M1178.2 1639.6h.01M1178.8 1830.0h.01M1179.4 1682.7h.01M1179.9 1729.4h.01M1180.5 1602.5h.01M1181.0 1666.0h.01M1181.6 1651.9h.01M1182.1 1628.8h.01M1182.7 1729.4h.01M1183.2 1682.7h.01M1183.8 1703.1h.01M1184.3 1651.9h.01M1184.9 1595.2h.01M1185.4 1682.7h.01M1185.9 1682.7h.01M1186.5 1610.5h.01M1187.0 1729.4h.01M1187.5 1639.6h.01M1188.1 1610.5h.01M1188.6 1703.1h.01M1189.1 1666.0h.01M1189.6 1729.4h.01M1190.2 1729.4h.01M1190.7 1682.7h.01M1191.2 1729.4h.01M1191.7 1651.9h.01M1192.2 1766.5h.01M1192.8 1830.0h.01M1193.3 1639.6h.01M1193.8 1666.0h.01M1194.3 1682.7h.01M1194.8 1703.1h.01M1195.3 1651.9h.01M1195.8 1682.7h.01M1196.3 1682.7h.01M1196.8 1682.7h.01M1197.3 1703.1h.01M1197.8 1729.4h.01M1198.3 1729.4h.01M1198.8 1682.7h.01M1199.3 1729.4h.01M1199.8 1682.7h.01M1200.3 1703.1h.01M1200.8 1766.5h.01M1201.2 1729.4h.01M1202.2 1703.1h.01M1202.7 1682.7h.01M1203.2 1703.1h.01M1203.7 1682.7h.01M1204.1 1666.0h.01M1204.6 1666.0h.01M1205.1 1830.0h.01M1205.6 1729.4h.01M1206.0 1703.1h.01M1206.5 1682.7h.01M1207.0 1666.0h.01M1207.4 1666.0h.01M1207.9 1830.0h.01M1208.8 1666.0h.01M1209.3 1703.1h.01M1209.8 1830.0h.01M1210.2 1729.4h.01M1210.7 1703.1h.01M1211.1 1766.5h.01M1211.6 1729.4h.01M1212.0 1703.1h.01M1212.5 1682.7h.01M1213.0 1830.0h.01M1213.4 1766.5h.01M1213.9 1830.0h.01M1214.3 1766.5h.01M1214.7 1703.1h.01M1215.2 1703.1h.01M1215.6 1830.0h.01M1216.1 1766.5h.01M1216.5 1703.1h.01M1217.0 1729.4h.01M1217.4 1766.5h.01M1217.8 1729.4h.01M1218.3 1766.5h.01M1218.7 1703.1h.01M1219.1 1729.4h.01M1219.6 1766.5h.01M1220.0 1703.1h.01M1220.4 1766.5h.01M1220.9 1729.4h.01M1221.3 1729.4h.01M1221.7 1703.1h.01M1222.1 1729.4h.01M1222.6 1729.4h.01M1223.0 1830.0h.01M1223.4 1830.0h.01M1223.8 1766.5h.01M1224.3 1830.0h.01M1224.7 1766.5h.01M1225.1 1766.5h.01M1225.5 1729.4h.01M1225.9 1703.1h.01M1226.3 1830.0h.01M1226.8 1729.4h.01M1227.2 1766.5h.01M1227.6 1703.1h.01M1228.0 1729.4h.01M1228.4 1766.5h.01M1228.8 1729.4h.01M1230.0 1766.5h.01M1230.4 1830.0h.01M1230.8 1729.4h.01M1231.2 1766.5h.01M1231.6 1766.5h.01M1232.0 1703.1h.01M1232.4 1766.5h.01M1232.8 1830.0h.01M1233.2 1729.4h.01M1233.6 1703.1h.01M1234.0 1766.5h.01M1234.8 1766.5h.01M1235.2 1703.1h.01M1235.6 1766.5h.01M1236.0 1830.0h.01M1236.4 1830.0h.01M1237.1 1766.5h.01M1237.5 1766.5h.01M1238.3 1766.5h.01M1238.7 1729.4h.01M1239.0 1830.0h.01M1239.4 1729.4h.01M1239.8 1729.4h.01M1240.2 1830.0h.01M1240.6 1830.0h.01M1241.3 1830.0h.01M1242.8 1830.0h.01M1243.6 1729.4h.01M1243.9 1729.4h.01M1244.3 1766.5h.01M1244.7 1830.0h.01M1245.0 1830.0h.01M1245.4 1729.4h.01M1245.8 1766.5h.01M1246.8 1766.5h.01M1247.2 1703.1h.01M1247.6 1830.0h.01M1247.9 1830.0h.01M1248.3 1830.0h.01M1248.7 1766.5h.01M1249.0 1729.4h.01M1249.4 1830.0h.01M1250.1 1830.0h.01M1250.4 1830.0h.01M1250.8 1830.0h.01M1251.1 1766.5h.01M1251.8 1729.4h.01M1252.2 1766.5h.01M1252.9 1766.5h.01M1253.6 1729.4h.01M1253.9 1830.0h.01M1254.3 1766.5h.01M1255.0 1830.0h.01M1256.0 1766.5h.01M1256.3 1830.0h.01M1257.7 1830.0h.01M1258.0 1766.5h.01M1259.0 1830.0h.01M1261.4 1830.0h.01M1262.7 1766.5h.01M1263.0 1830.0h.01M1263.3 1830.0h.01M1264.0 1830.0h.01M1265.0 1830.0h.01M1265.6 1729.4h.01M1266.6 1830.0h.01M1266.9 1830.0h.01M1267.5 1830.0h.01M1267.8 1766.5h.01M1268.2 1830.0h.01M1268.5 1766.5h.01M1270.0 1729.4h.01M1270.4 1830.0h.01M1271.0 1729.4h.01M1271.3 1830.0h.01M1272.2 1766.5h.01M1272.8 1830.0h.01M1273.7 1830.0h.01M1274.1 1830.0h.01M1274.4 1729.4h.01M1274.7 1830.0h.01M1275.0 1830.0h.01M1275.9 1830.0h.01M1277.1 1830.0h.01M1277.4 1766.5h.01M1277.7 1830.0h.01M1278.3 1830.0h.01M1278.8 1766.5h.01M1279.1 1729.4h.01M1279.7 1766.5h.01M1280.3 1830.0h.01M1280.9 1830.0h.01M1281.5 1766.5h.01M1281.8 1830.0h.01M1282.3 1830.0h.01M1284.1 1830.0h.01M1284.4 1830.0h.01M1285.2 1830.0h.01M1286.3 1766.5h.01M1286.9 1830.0h.01M1287.5 1830.0h.01M1288.0 1830.0h.01M1288.3 1830.0h.01M1289.1 1830.0h.01M1289.7 1830.0h.01M1290.5 1830.0h.01M1290.8 1766.5h.01M1291.0 1830.0h.01M1292.1 1729.4h.01M1292.4 1830.0h.01M1293.2 1830.0h.01M1293.5 1766.5h.01M1293.7 1830.0h.01M1294.0 1830.0h.01M1295.3 1830.0h.01M1296.1 1830.0h.01M1296.4 1830.0h.01M1296.9 1830.0h.01M1298.5 1830.0h.01M1299.5 1729.4h.01M1299.8 1830.0h.01M1301.6 1766.5h.01M1302.1 1830.0h.01M1302.3 1830.0h.01M1302.9 1830.0h.01M1304.1 1830.0h.01M1304.6 1830.0h.01M1304.9 1830.0h.01M1305.4 1830.0h.01M1305.9 1766.5h.01M1306.4 1830.0h.01M1307.1 1830.0h.01M1307.6 1830.0h.01M1307.8 1830.0h.01M1309.5 1830.0h.01M1312.7 1830.0h.01M1313.1 1830.0h.01M1315.2 1830.0h.01M1315.5 1830.0h.01M1316.2 1830.0h.01M1316.6 1830.0h.01M1317.3 1830.0h.01M1319.4 1830.0h.01M1319.8 1830.0h.01M1320.7 1830.0h.01M1321.2 1830.0h.01M1321.6 1830.0h.01M1321.9 1830.0h.01M1322.3 1830.0h.01M1322.8 1830.0h.01M1323.6 1830.0h.01M1325.0 1830.0h.01M1325.6 1830.0h.01M1325.8 1830.0h.01M1328.7 1830.0h.01M1331.6 1830.0h.01M1332.9 1830.0h.01M1333.7 1830.0h.01M1334.3 1830.0h.01M1336.0 1830.0h.01M1337.0 1830.0h.01M1339.2 1830.0h.01M1339.6 1830.0h.01M1345.5 1830.0h.01M1347.0 1830.0h.01M1348.0 1830.0h.01M1350.6 1766.5h.01M1353.2 1830.0h.01M1355.2 1830.0h.01M1355.5 1830.0h.01M1356.6 1830.0h.01M1360.0 1830.0h.01M1360.3 1830.0h.01M1362.0 1830.0h.01M1362.6 1830.0h.01M1367.0 1830.0h.01M1368.8 1830.0h.01M1370.4 1830.0h.01M1370.8 1830.0h.01M1372.4 1830.0h.01M1373.2 1830.0h.01M1373.4 1830.0h.01M1373.8 1830.0h.01M1375.9 1830.0h.01M1377.8 1830.0h.01M1378.7 1830.0h.01M1382.1 1830.0h.01M1382.9 1830.0h.01M1384.7 1830.0h.01M1389.5 1830.0h.01M1398.2 1830.0h.01M1407.5 1830.0h.01M1412.5 1830.0h.01M1437.0 1830.0h.01M1441.0 1830.0h.01M1447.0 1830.0h.01M1451.5 1830.0h.01M1461.2 1830.0h.01M1471.5 1830.0h.01M1476.0 1830.0h.01M1527.7 1830.0h.01M1552.6 1830.0h.01M1572.8 1830.0h.01M1575.5 1830.0h.01M1595.0 1830.0h.01M1626.9 1830.0h.01"/>
<path stroke="#4C72B0" d="M197.7 1415.0h.01M368.4 1377.6h.01M447.7 1333.3h.01M500.0 1325.6h.01M539.1 1319.9h.01M570.2 1310.9h.01M596.2 1295.6h.01M618.4 1301.3h.01M637.9 1293.2h.01M655.1 1287.6h.01M670.7 1279.9h.01M684.8 1274.7h.01M697.8 1279.7h.01M709.7 1271.3h.01M720.8 1279.7h.01M731.2 1274.4h.01M740.9 1271.9h.01M750.0 1268.3h.01M758.7 1271.1h.01M766.8 1271.9h.01M774.6 1266.1h.01M782.0 1263.3h.01M789.1 1264.0h.01M795.8 1265.4h.01M802.3 1270.5h.01M808.5 1271.9h.01M814.5 1276.8h.01M820.2 1273.2h.01M825.8 1272.8h.01M831.2 1275.1h.01M836.3 1294.5h.01M841.3 1285.7h.01M846.2 1286.7h.01M850.9 1287.9h.01M855.5 1289.6h.01M859.9 1288.9h.01M864.2 1287.6h.01M868.4 1296.9h.01M872.5 1284.7h.01M876.5 1300.5h.01M880.4 1295.8h.01M884.2 1301.1h.01M887.9 1301.9h.01M891.5 1299.1h.01M895.0 1312.5h.01M898.5 1308.1h.01M901.8 1310.6h.01M905.2 1315.1h.01M908.4 1316.5h.01M911.6 1329.8h.01M914.7 1320.2h.01M917.7 1331.4h.01M920.7 1326.4h.01M923.6 1328.6h.01M926.5 1346.3h.01M929.3 1348.7h.01M932.1 1351.6h.01M934.8 1344.9h.01M937.5 1352.1h.01M940.1 1348.2h.01M942.7 1352.1h.01M945.3 1360.9h.01M947.8 1364.8h.01M950.3 1371.9h.01M952.7 1362.6h.01M955.1 1374.4h.01M957.4 1376.3h.01M959.7 1388.7h.01M962.0 1383.0h.01M964.3 1396.4h.01M966.5 1386.5h.01M968.7 1400.5h.01M970.8 1390.2h.01M973.0 1398.8h.01M975.1 1399.7h.01M977.1 1408.4h.01M979.2 1424.4h.01M981.2 1409.3h.01M983.2 1408.4h.01M985.2 1422.2h.01M987.1 1423.3h.01M989.0 1432.3h.01M990.9 1428.8h.01M992.8 1426.6h.01M994.6 1427.7h.01M996.5 1443.7h.01M998.3 1452.2h.01M1000.1 1439.8h.01M1001.8 1445.1h.01M1003.6 1443.7h.01M1005.3 1438.5h.01M1007.0 1464.8h.01M1008.7 1458.3h.01M1010.4 1453.7h.01M1012.0 1490.0h.01M1013.6 1456.7h.01M1015.3 1468.3h.01M1016.9 1477.5h.01M1018.5 1475.6h.01M1020.0 1494.6h.01M1021.6 1501.9h.01M1023.1 1471.9h.01M1024.6 1528.3h.01M1026.1 1475.6h.01M1027.6 1470.0h.01M1029.1 1490.0h.01M1030.6 1515.6h.01M1032.0 1494.6h.01M1033.5 1492.3h.01M1034.9 1507.2h.01M1036.3 1477.5h.01M1037.7 1485.7h.01M1039.1 1551.3h.01M1040.5 1524.9h.01M1041.8 1509.9h.01M1043.2 1524.9h.01M1044.5 1507.2h.01M1045.9 1490.0h.01M1047.2 1570.6h.01M1048.5 1551.3h.01M1049.8 1531.7h.01M1051.1 1535.3h.01M1052.3 1528.3h.01M1053.6 1582.1h.01M1054.8 1547.0h.01M1056.1 1539.1h.01M1057.3 1602.5h.01M1058.5 1542.9h.01M1059.8 1570.6h.01M1061.0 1595.2h.01M1062.2 1542.9h.01M1063.3 1555.7h.01M1064.5 1509.9h.01M1065.7 1576.2h.01M1066.8 1551.3h.01M1068.0 1555.7h.01M1069.1 1619.2h.01M1070.3 1639.6h.01M1071.4 1651.9h.01M1072.5 1528.3h.01M1073.6 1542.9h.01M1074.7 1555.7h.01M1075.8 1582.1h.01M1076.9 1602.5h.01M1078.0 1555.7h.01M1079.1 1602.5h.01M1080.1 1619.2h.01M1081.2 1619.2h.01M1082.2 1539.1h.01M1083.3 1588.4h.01M1084.3 1588.4h.01M1085.3 1542.9h.01M1086.4 1610.5h.01M1087.4 1531.7h.01M1088.4 1602.5h.01M1089.4 1651.9h.01M1090.4 1555.7h.01M1091.4 1602.5h.01M1092.4 1703.1h.01M1093.3 1628.8h.01M1094.3 1628.8h.01M1095.3 1547.0h.01M1096.2 1602.5h.01M1097.2 1682.7h.01M1098.1 1666.0h.01M1099.1 1628.8h.01M1100.0 1628.8h.01M1100.9 1588.4h.01M1101.9 1703.1h.01M1102.8 1639.6h.01M1103.7 1729.4h.01M1104.6 1610.5h.01M1105.5 1639.6h.01M1106.4 1666.0h.01M1107.3 1651.9h.01M1108.2 1666.0h.01M1109.1 1588.4h.01M1109.9 1682.7h.01M1110.8 1639.6h.01M1112.5 1729.4h.01M1113.4 1639.6h.01M1114.3 1682.7h.01M1115.1 1651.9h.01M1115.9 1729.4h.01M1116.8 1766.5h.01M1117.6 1766.5h.01M1118.5 1703.1h.01M1119.3 1766.5h.01M1120.1 1766.5h.01M1120.9 1729.4h.01M1121.7 1766.5h.01M1122.5 1729.4h.01M1123.3 1729.4h.01M1124.1 1703.1h.01M1124.9 1729.4h.01M1125.7 1703.1h.01M1126.5 1729.4h.01M1127.3 1651.9h.01M1128.1 1703.1h.01M1128.9 1729.4h.01M1129.6 1682.7h.01M1130.4 1729.4h.01M1131.2 1729.4h.01M1131.9 1729.4h.01M1132.7 1766.5h.01M1133.4 1729.4h.01M1134.2 1729.4h.01M1134.9 1703.1h.01M1135.7 1703.1h.01M1136.4 1682.7h.01M1137.2 1682.7h.01M1137.9 1682.7h.01M1138.6 1682.7h.01M1139.4 1703.1h.01M1140.1 1729.4h.01M1140.8 1729.4h.01M1141.5 1830.0h.01M1142.2 1830.0h.01M1142.9 1830.0h.01M1143.6 1766.5h.01M1145.7 1830.0h.01M1146.4 1766.5h.01M1147.1 1729.4h.01M1147.8 1766.5h.01M1148.5 1830.0h.01M1149.2 1830.0h.01M1149.9 1830.0h.01M1151.2 1766.5h.01M1151.9 1830.0h.01M1152.5 1830.0h.01M1153.2 1830.0h.01M1153.9 1830.0h.01M1154.5 1766.5h.01M1155.2 1830.0h.01M1155.8 1830.0h.01M1156.5 1830.0h.01M1157.1 1729.4h.01M1157.8 1830.0h.01M1158.4 1729.4h.01M1159.1 1766.5h.01M1159.7 1766.5h.01M1160.3 1830.0h.01M1161.0 1830.0h.01M1161.6 1766.5h.01M1162.8 1729.4h.01M1163.5 1766.5h.01M1164.1 1766.5h.01M1164.7 1703.1h.01M1165.3 1729.4h.01M1165.9 1729.4h.01M1166.5 1766.5h.01M1167.1 1830.0h.01M1167.7 1766.5h.01M1168.3 1766.5h.01M1169.5 1766.5h.01M1170.1 1830.0h.01M1170.7 1766.5h.01M1171.3 1666.0h.01M1171.9 1766.5h.01M1172.5 1830.0h.01M1173.1 1729.4h.01M1173.7 1766.5h.01M1174.2 1830.0h.01M1175.4 1766.5h.01M1176.0 1729.4h.01M1177.1 1830.0h.01M1179.4 1830.0h.01M1180.5 1830.0h.01M1181.0 1830.0h.01M1181.6 1830.0h.01M1182.1 1830.0h.01M1183.8 1830.0h.01M1184.9 1830.0h.01M1185.9 1830.0h.01M1187.5 1766.5h.01M1188.1 1682.7h.01M1188.6 1830.0h.01M1189.1 1766.5h.01M1191.2 1830.0h.01M1191.7 1830.0h.01M1193.3 1830.0h.01M1193.8 1830.0h.01M1194.3 1830.0h.01M1194.8 1830.0h.01M1195.3 1766.5h.01M1196.8 1830.0h.01M1197.3 1830.0h.01M1198.3 1830.0h.01M1199.3 1830.0h.01M1199.8 1830.0h.01M1204.6 1830.0h.01M1205.6 1766.5h.01M1206.5 1830.0h.01M1207.4 1830.0h.01M1208.8 1830.0h.01M1210.2 1830.0h.01M1211.6 1830.0h.01M1212.5 1830.0h.01M1216.5 1729.4h.01M1217.0 1830.0h.01M1220.0 1830.0h.01M1220.9 1830.0h.01M1222.1 1830.0h.01M1224.3 1830.0h.01M1225.9 1830.0h.01M1228.0 1830.0h.01M1230.0 1766.5h.01M1231.2 1830.0h.01M1233.6 1830.0h.01M1235.6 1830.0h.01M1238.3 1830.0h.01M1239.0 1830.0h.01M1239.4 1830.0h.01M1243.6 1830.0h.01M1243.9 1766.5h.01M1246.8 1830.0h.01M1249.4 1830.0h.01M1252.2 1830.0h.01M1253.6 1830.0h.01M1253.9 1830.0h.01M1257.7 1830.0h.01M1259.0 1830.0h.01M1262.7 1830.0h.01M1265.6 1830.0h.01M1267.8 1830.0h.01M1272.2 1830.0h.01M1275.9 1830.0h.01M1277.4 1830.0h.01M1278.8 1830.0h.01M1281.5 1830.0h.01M1285.2 1830.0h.01M1287.7 1830.0h.01M1294.0 1830.0h.01M1301.6 1830.0h.01M1302.3 1830.0h.01M1304.6 1830.0h.01M1319.4 1830.0h.01M1320.7 1830.0h.01M1321.9 1830.0h.01M1322.3 1830.0h.01M1323.6 1830.0h.01M1339.2 1830.0h.01M1339.6 1830.0h.01M1345.5 1830.0h.01M1350.6 1830.0h.01M1362.6 1830.0h.01M1389.5 1830.0h.01M1398.2 1830.0h.01M1575.5 1830.0h.01M1626.9 1830.0h.01"/>
<path stroke="#B03426" d="M197.7 1367.7h.01M368.4 1318.5h.01M447.7 1309.1h.01M500.0 1302.5h.01M539.1 1298.8h.01M570.2 1300.8h.01M596.2 1307.5h.01M618.4 1307.8h.01M637.9 1305.1h.01M655.1 1300.5h.01M670.7 1295.6h.01M684.8 1303.1h.01M697.8 1303.9h.01M709.7 1295.0h.01M720.8 1291.9h.01M731.2 1287.4h.01M740.9 1283.8h.01M750.0 1282.9h.01M758.7 1276.8h.01M766.8 1275.1h.01M774.6 1274.0h.01M782.0 1271.7h.01M789.1 1269.5h.01M795.8 1275.5h.01M802.3 1267.9h.01M808.5 1270.1h.01M814.5 1261.6h.01M820.2 1266.1h.01M825.8 1257.1h.01M831.2 1254.7h.01M836.3 1258.2h.01M841.3 1259.6h.01M846.2 1255.9h.01M850.9 1254.4h.01M855.5 1258.7h.01M859.9 1255.4h.01M864.2 1252.2h.01M868.4 1251.5h.01M872.5 1254.2h.01M876.5 1252.2h.01M880.4 1257.8h.01M884.2 1250.7h.01M887.9 1249.1h.01M891.5 1257.6h.01M895.0 1254.4h.01M898.5 1260.1h.01M901.8 1250.4h.01M905.2 1246.2h.01M908.4 1253.2h.01M911.6 1249.2h.01M914.7 1250.0h.01M917.7 1254.2h.01M920.7 1256.2h.01M923.6 1258.9h.01M926.5 1255.2h.01M929.3 1261.6h.01M932.1 1263.3h.01M934.8 1266.5h.01M937.5 1262.0h.01M940.1 1262.5h.01M942.7 1264.2h.01M945.3 1268.1h.01M947.8 1272.6h.01M950.3 1281.7h.01M952.7 1277.9h.01M955.1 1274.0h.01M957.4 1279.9h.01M959.7 1281.7h.01M962.0 1283.1h.01M964.3 1279.9h.01M966.5 1284.5h.01M968.7 1287.2h.01M970.8 1282.6h.01M973.0 1288.1h.01M975.1 1285.0h.01M977.1 1289.9h.01M979.2 1295.8h.01M981.2 1303.9h.01M983.2 1299.7h.01M985.2 1306.3h.01M987.1 1306.9h.01M989.0 1306.6h.01M990.9 1316.8h.01M992.8 1315.1h.01M994.6 1315.8h.01M996.5 1310.6h.01M998.3 1310.9h.01M1000.1 1311.6h.01M1001.8 1319.2h.01M1003.6 1327.9h.01M1005.3 1333.8h.01M1007.0 1329.8h.01M1008.7 1335.8h.01M1010.4 1338.7h.01M1012.0 1337.9h.01M1013.6 1344.0h.01M1015.3 1338.3h.01M1016.9 1345.4h.01M1018.5 1347.3h.01M1020.0 1345.9h.01M1021.6 1352.6h.01M1023.1 1344.0h.01M1024.6 1358.8h.01M1026.1 1357.7h.01M1027.6 1354.1h.01M1029.1 1356.1h.01M1030.6 1357.2h.01M1032.0 1355.6h.01M1033.5 1364.2h.01M1034.9 1365.4h.01M1036.3 1368.3h.01M1037.7 1370.1h.01M1039.1 1378.3h.01M1040.5 1366.5h.01M1041.8 1388.7h.01M1043.2 1392.5h.01M1044.5 1385.1h.01M1045.9 1384.4h.01M1047.2 1383.7h.01M1048.5 1386.5h.01M1049.8 1406.6h.01M1051.1 1416.0h.01M1052.3 1406.6h.01M1053.6 1394.0h.01M1054.8 1407.5h.01M1056.1 1396.4h.01M1057.3 1409.3h.01M1058.5 1404.8h.01M1059.8 1420.1h.01M1061.0 1414.1h.01M1062.2 1415.0h.01M1063.3 1430.0h.01M1064.5 1421.1h.01M1065.7 1412.1h.01M1066.8 1434.7h.01M1068.0 1439.8h.01M1069.1 1439.8h.01M1070.3 1447.8h.01M1071.4 1450.7h.01M1072.5 1461.5h.01M1073.6 1424.4h.01M1074.7 1452.2h.01M1075.8 1450.7h.01M1076.9 1447.8h.01M1078.0 1458.3h.01M1079.1 1456.7h.01M1080.1 1459.9h.01M1081.2 1461.5h.01M1082.2 1461.5h.01M1083.3 1485.7h.01M1084.3 1446.4h.01M1085.3 1483.6h.01M1086.4 1487.8h.01M1087.4 1458.3h.01M1088.4 1471.9h.01M1089.4 1492.3h.01M1090.4 1512.7h.01M1091.4 1483.6h.01M1092.4 1499.4h.01M1093.3 1499.4h.01M1094.3 1509.9h.01M1095.3 1497.0h.01M1096.2 1499.4h.01M1097.2 1485.7h.01M1098.1 1470.0h.01M1099.1 1497.0h.01M1100.0 1481.5h.01M1100.9 1490.0h.01M1101.9 1492.3h.01M1102.8 1492.3h.01M1103.7 1492.3h.01M1104.6 1490.0h.01M1105.5 1518.6h.01M1106.4 1512.7h.01M1107.3 1483.6h.01M1108.2 1524.9h.01M1109.1 1521.7h.01M1109.9 1518.6h.01M1110.8 1528.3h.01M1111.7 1570.6h.01M1112.5 1501.9h.01M1113.4 1509.9h.01M1114.3 1497.0h.01M1115.1 1507.2h.01M1115.9 1535.3h.01M1116.8 1539.1h.01M1117.6 1539.1h.01M1118.5 1531.7h.01M1119.3 1639.6h.01M1120.1 1507.2h.01M1120.9 1535.3h.01M1121.7 1595.2h.01M1122.5 1528.3h.01M1123.3 1521.7h.01M1124.1 1531.7h.01M1124.9 1639.6h.01M1125.7 1535.3h.01M1126.5 1555.7h.01M1127.3 1512.7h.01M1128.1 1547.0h.01M1128.9 1535.3h.01M1129.6 1560.4h.01M1130.4 1565.4h.01M1131.2 1547.0h.01M1131.9 1535.3h.01M1132.7 1555.7h.01M1133.4 1570.6h.01M1134.2 1531.7h.01M1134.9 1639.6h.01M1135.7 1551.3h.01M1136.4 1576.2h.01M1137.2 1551.3h.01M1137.9 1610.5h.01M1138.6 1582.1h.01M1139.4 1602.5h.01M1140.1 1576.2h.01M1140.8 1565.4h.01M1141.5 1639.6h.01M1142.2 1570.6h.01M1142.9 1565.4h.01M1143.6 1628.8h.01M1144.3 1570.6h.01M1145.0 1619.2h.01M1145.7 1576.2h.01M1146.4 1595.2h.01M1147.1 1729.4h.01M1147.8 1602.5h.01M1148.5 1582.1h.01M1149.2 1639.6h.01M1149.9 1619.2h.01M1150.5 1582.1h.01M1151.2 1602.5h.01M1151.9 1628.8h.01M1152.5 1628.8h.01M1153.2 1610.5h.01M1153.9 1729.4h.01M1154.5 1628.8h.01M1155.2 1639.6h.01M1155.8 1619.2h.01M1156.5 1651.9h.01M1157.1 1666.0h.01M1157.8 1602.5h.01M1158.4 1639.6h.01M1159.1 1682.7h.01M1159.7 1651.9h.01M1160.3 1602.5h.01M1161.0 1628.8h.01M1161.6 1651.9h.01M1162.2 1628.8h.01M1162.8 1610.5h.01M1163.5 1639.6h.01M1164.1 1703.1h.01M1164.7 1666.0h.01M1165.3 1666.0h.01M1165.9 1729.4h.01M1166.5 1666.0h.01M1167.1 1639.6h.01M1167.7 1651.9h.01M1168.3 1602.5h.01M1168.9 1619.2h.01M1169.5 1729.4h.01M1170.1 1682.7h.01M1170.7 1619.2h.01M1171.3 1639.6h.01M1171.9 1830.0h.01M1172.5 1766.5h.01M1173.7 1830.0h.01M1174.2 1651.9h.01M1174.8 1729.4h.01M1175.4 1703.1h.01M1176.0 1682.7h.01M1176.5 1651.9h.01M1177.1 1682.7h.01M1177.7 1703.1h.01M1178.2 1639.6h.01M1178.8 1830.0h.01M1179.4 1703.1h.01M1179.9 1729.4h.01M1180.5 1610.5h.01M1181.0 1682.7h.01M1181.6 1666.0h.01M1182.1 1639.6h.01M1182.7 1729.4h.01M1183.2 1682.7h.01M1183.8 1729.4h.01M1184.3 1651.9h.01M1184.9 1602.5h.01M1185.4 1682.7h.01M1185.9 1703.1h.01M1186.5 1610.5h.01M1187.0 1729.4h.01M1187.5 1666.0h.01M1188.1 1666.0h.01M1188.6 1729.4h.01M1189.1 1703.1h.01M1189.6 1729.4h.01M1190.2 1729.4h.01M1190.7 1682.7h.01M1191.2 1766.5h.01M1191.7 1666.0h.01M1192.2 1766.5h.01M1192.8 1830.0h.01M1193.3 1651.9h.01M1193.8 1682.7h.01M1194.3 1703.1h.01M1194.8 1729.4h.01M1195.3 1682.7h.01M1195.8 1682.7h.01M1196.3 1682.7h.01M1196.8 1703.1h.01M1197.3 1729.4h.01M1197.8 1729.4h.01M1198.3 1766.5h.01M1198.8 1682.7h.01M1199.3 1766.5h.01M1199.8 1703.1h.01M1200.3 1703.1h.01M1200.8 1766.5h.01M1201.2 1729.4h.01M1202.2 1703.1h.01M1202.7 1682.7h.01M1203.2 1703.1h.01M1203.7 1682.7h.01M1204.1 1666.0h.01M1204.6 1682.7h.01M1205.1 1830.0h.01M1205.6 1830.0h.01M1206.0 1703.1h.01M1206.5 1703.1h.01M1207.0 1666.0h.01M1207.4 1682.7h.01M1207.9 1830.0h.01M1208.8 1682.7h.01M1209.3 1703.1h.01M1209.8 1830.0h.01M1210.2 1766.5h.01M1210.7 1703.1h.01M1211.1 1766.5h.01M1211.6 1766.5h.01M1212.0 1703.1h.01M1212.5 1703.1h.01M1213.0 1830.0h.01M1213.4 1766.5h.01M1213.9 1830.0h.01M1214.3 1766.5h.01M1214.7 1703.1h.01M1215.2 1703.1h.01M1215.6 1830.0h.01M1216.1 1766.5h.01M1216.5 1830.0h.01M1217.0 1766.5h.01M1217.4 1766.5h.01M1217.8 1729.4h.01M1218.3 1766.5h.01M1218.7 1703.1h.01M1219.1 1729.4h.01M1219.6 1766.5h.01M1220.0 1729.4h.01M1220.4 1766.5h.01M1220.9 1766.5h.01M1221.3 1729.4h.01M1221.7 1703.1h.01M1222.1 1766.5h.01M1222.6 1729.4h.01M1223.0 1830.0h.01M1223.4 1830.0h.01M1223.8 1766.5h.01M1224.7 1830.0h.01M1225.1 1766.5h.01M1225.5 1729.4h.01M1225.9 1729.4h.01M1226.3 1830.0h.01M1226.8 1729.4h.01M1227.2 1766.5h.01M1227.6 1703.1h.01M1228.0 1766.5h.01M1228.4 1766.5h.01M1228.8 1729.4h.01M1230.4 1830.0h.01M1230.8 1729.4h.01M1231.2 1830.0h.01M1231.6 1766.5h.01M1232.0 1703.1h.01M1232.4 1766.5h.01M1232.8 1830.0h.01M1233.2 1729.4h.01M1233.6 1729.4h.01M1234.0 1766.5h.01M1234.8 1766.5h.01M1235.2 1703.1h.01M1235.6 1830.0h.01M1236.0 1830.0h.01M1236.4 1830.0h.01M1237.1 1766.5h.01M1237.5 1766.5h.01M1238.3 1830.0h.01M1238.7 1729.4h.01M1239.4 1766.5h.01M1239.8 1729.4h.01M1240.2 1830.0h.01M1240.6 1830.0h.01M1241.3 1830.0h.01M1242.8 1830.0h.01M1243.6 1766.5h.01M1243.9 1830.0h.01M1244.3 1766.5h.01M1244.7 1830.0h.01M1245.0 1830.0h.01M1245.4 1729.4h.01M1245.8 1766.5h.01M1246.8 1830.0h.01M1247.2 1703.1h.01M1247.6 1830.0h.01M1247.9 1830.0h.01M1248.3 1830.0h.01M1248.7 1766.5h.01M1249.0 1729.4h.01M1250.1 1830.0h.01M1250.4 1830.0h.01M1250.8 1830.0h.01M1251.1 1766.5h.01M1251.8 1729.4h.01M1252.2 1830.0h.01M1252.9 1766.5h.01M1253.6 1766.5h.01M1254.3 1766.5h.01M1255.0 1830.0h.01M1256.0 1766.5h.01M1256.3 1830.0h.01M1258.0 1766.5h.01M1261.4 1830.0h.01M1262.7 1830.0h.01M1263.0 1830.0h.01M1263.3 1830.0h.01M1264.0 1830.0h.01M1265.0 1830.0h.01M1265.6 1766.5h.01M1266.6 1830.0h.01M1266.9 1830.0h.01M1267.5 1830.0h.01M1267.8 1830.0h.01M1268.5 1766.5h.01M1270.0 1729.4h.01M1270.4 1830.0h.01M1271.0 1729.4h.01M1271.3 1830.0h.01M1272.2 1830.0h.01M1272.8 1830.0h.01M1273.7 1830.0h.01M1274.1 1830.0h.01M1274.4 1729.4h.01M1274.7 1830.0h.01M1275.0 1830.0h.01M1277.1 1830.0h.01M1277.4 1830.0h.01M1278.3 1830.0h.01M1278.8 1830.0h.01M1279.1 1729.4h.01M1279.7 1766.5h.01M1280.3 1830.0h.01M1280.9 1830.0h.01M1281.5 1830.0h.01M1281.8 1830.0h.01M1282.3 1830.0h.01M1284.1 1830.0h.01M1284.4 1830.0h.01M1286.3 1766.5h.01M1286.9 1830.0h.01M1287.5 1830.0h.01M1288.0 1830.0h.01M1288.3 1830.0h.01M1289.1 1830.0h.01M1289.7 1830.0h.01M1290.5 1830.0h.01M1290.8 1766.5h.01M1291.0 1830.0h.01M1292.1 1729.4h.01M1292.4 1830.0h.01M1293.2 1830.0h.01M1293.5 1766.5h.01M1293.7 1830.0h.01M1295.3 1830.0h.01M1296.1 1830.0h.01M1296.4 1830.0h.01M1296.9 1830.0h.01M1298.5 1830.0h.01M1299.5 1729.4h.01M1299.8 1830.0h.01M1301.6 1830.0h.01M1302.1 1830.0h.01M1302.9 1830.0h.01M1304.1 1830.0h.01M1304.9 1830.0h.01M1305.4 1830.0h.01M1305.9 1766.5h.01M1306.4 1830.0h.01M1307.1 1830.0h.01M1307.6 1830.0h.01M1307.8 1830.0h.01M1309.5 1830.0h.01M1312.7 1830.0h.01M1313.1 1830.0h.01M1315.2 1830.0h.01M1315.5 1830.0h.01M1316.2 1830.0h.01M1316.6 1830.0h.01M1317.3 1830.0h.01M1319.6 1830.0h.01M1319.8 1830.0h.01M1321.2 1830.0h.01M1321.6 1830.0h.01M1322.8 1830.0h.01M1325.0 1830.0h.01M1325.6 1830.0h.01M1325.8 1830.0h.01M1328.7 1830.0h.01M1331.6 1830.0h.01M1332.9 1830.0h.01M1333.7 1830.0h.01M1334.3 1830.0h.01M1336.0 1830.0h.01M1337.0 1830.0h.01M1347.0 1830.0h.01M1348.0 1830.0h.01M1350.6 1830.0h.01M1353.2 1830.0h.01M1355.2 1830.0h.01M1355.5 1830.0h.01M1356.6 1830.0h.01M1360.0 1830.0h.01M1360.3 1830.0h.01M1362.0 1830.0h.01M1367.0 1830.0h.01M1368.8 1830.0h.01M1370.4 1830.0h.01M1370.8 1830.0h.01M1372.4 1830.0h.01M1373.2 1830.0h.01M1373.4 1830.0h.01M1373.8 1830.0h.01M1375.9 1830.0h.01M1377.8 1830.0h.01M1378.7 1830.0h.01M1382.1 1830.0h.01M1382.9 1830.0h.01M1384.7 1830.0h.01M1407.5 1830.0h.01M1412.5 1830.0h.01M1437.0 1830.0h.01M1441.0 1830.0h.01M1447.0 1830.0h.01M1451.5 1830.0h.01M1461.2 1830.0h.01M1471.5 1830.0h.01M1476.0 1830.0h.01M1527.7 1830.0h.01M1552.6 1830.0h.01M1572.8 1830.0h.01M1595.0 1830.0h.01"/>
</g>
<path d="M305.4 1830.5v10M305.4 1049.8v-10M663.1 1830.5v10M663.1 1049.8v-10M1020.8 1830.5v10M1020.8 1049.8v-10M1378.5 1830.5v10M1378.5 1049.8v-10M117.4 1830.0h-10M117.4 1619.2h-10M117.4 1408.4h-10M117.4 1197.6h-10" stroke="#555" stroke-width="1.5" fill="none"/>
<path d="M118.4 1830.5v4.4M118.4 1049.3v-4.6M163.1 1830.5v4.4M163.1 1049.3v-4.6M197.7 1830.5v4.4M197.7 1049.3v-4.6M226.0 1830.5v4.4M226.0 1049.3v-4.6M250.0 1830.5v4.4M250.0 1049.3v-4.6M270.7 1830.5v4.4M270.7 1049.3v-4.6M289.0 1830.5v4.4M289.0 1049.3v-4.6M413.1 1830.5v4.4M413.1 1049.3v-4.6M476.1 1830.5v4.4M476.1 1049.3v-4.6M520.8 1830.5v4.4M520.8 1049.3v-4.6M555.4 1830.5v4.4M555.4 1049.3v-4.6M583.7 1830.5v4.4M583.7 1049.3v-4.6M607.7 1830.5v4.4M607.7 1049.3v-4.6M628.4 1830.5v4.4M628.4 1049.3v-4.6M646.7 1830.5v4.4M646.7 1049.3v-4.6M770.8 1830.5v4.4M770.8 1049.3v-4.6M833.8 1830.5v4.4M833.8 1049.3v-4.6M878.5 1830.5v4.4M878.5 1049.3v-4.6M913.1 1830.5v4.4M913.1 1049.3v-4.6M941.4 1830.5v4.4M941.4 1049.3v-4.6M965.4 1830.5v4.4M965.4 1049.3v-4.6M986.1 1830.5v4.4M986.1 1049.3v-4.6M1004.4 1830.5v4.4M1004.4 1049.3v-4.6M1128.5 1830.5v4.4M1128.5 1049.3v-4.6M1191.5 1830.5v4.4M1191.5 1049.3v-4.6M1236.2 1830.5v4.4M1236.2 1049.3v-4.6M1270.8 1830.5v4.4M1270.8 1049.3v-4.6M1299.1 1830.5v4.4M1299.1 1049.3v-4.6M1323.1 1830.5v4.4M1323.1 1049.3v-4.6M1343.8 1830.5v4.4M1343.8 1049.3v-4.6M1362.1 1830.5v4.4M1362.1 1049.3v-4.6M1486.2 1830.5v4.4M1486.2 1049.3v-4.6M1549.2 1830.5v4.4M1549.2 1049.3v-4.6M1593.9 1830.5v4.4M1593.9 1049.3v-4.6M1628.5 1830.5v4.4M1628.5 1049.3v-4.6M117.4 1766.5h-4.4M117.4 1729.4h-4.4M117.4 1703.1h-4.4M117.4 1682.7h-4.4M117.4 1666.0h-4.4M117.4 1651.9h-4.4M117.4 1639.6h-4.4M117.4 1628.8h-4.4M117.4 1555.7h-4.4M117.4 1518.6h-4.4M117.4 1492.3h-4.4M117.4 1471.9h-4.4M117.4 1455.2h-4.4M117.4 1441.1h-4.4M117.4 1428.8h-4.4M117.4 1418.0h-4.4M117.4 1344.9h-4.4M117.4 1307.8h-4.4M117.4 1281.5h-4.4M117.4 1261.1h-4.4M117.4 1244.4h-4.4M117.4 1230.3h-4.4M117.4 1218.0h-4.4M117.4 1207.2h-4.4M117.4 1134.1h-4.4M117.4 1097.0h-4.4M117.4 1070.7h-4.4M117.4 1050.3h-4.4" stroke="#555" stroke-width="1.15" fill="none"/>
<path d="M1628.4 1646.8h11.6M1628.4 1436.0h11.6M1628.4 1225.2h11.6" stroke="#333" stroke-width="1.5" fill="none"/>
<path d="M1628.7 1794.1h6.3M1628.7 1757.0h6.3M1628.7 1730.7h6.3M1628.7 1710.3h6.3M1628.7 1693.6h6.3M1628.7 1679.5h6.3M1628.7 1667.2h6.3M1628.7 1656.4h6.3M1628.7 1583.3h6.3M1628.7 1546.2h6.3M1628.7 1519.9h6.3M1628.7 1499.5h6.3M1628.7 1482.8h6.3M1628.7 1468.7h6.3M1628.7 1456.4h6.3M1628.7 1445.6h6.3M1628.7 1372.5h6.3M1628.7 1335.4h6.3M1628.7 1309.1h6.3M1628.7 1288.7h6.3M1628.7 1272.0h6.3M1628.7 1257.9h6.3M1628.7 1245.6h6.3M1628.7 1234.8h6.3M1628.7 1161.7h6.3M1628.7 1124.6h6.3M1628.7 1098.3h6.3M1628.7 1077.9h6.3M1628.7 1061.2h6.3" stroke="#222" stroke-width="1.15" fill="none"/>
<g font-family="'DejaVu Sans','Liberation Sans',sans-serif">
<text x="275.3" y="1875.5" text-anchor="start" fill="#555" font-size="26.7">10<tspan dy="-12.2" dx="2.4" font-size="18.8">-2</tspan></text>
<text x="633.0" y="1875.5" text-anchor="start" fill="#555" font-size="26.7">10<tspan dy="-12.2" dx="2.4" font-size="18.8">-1</tspan></text>
<text x="994.8" y="1875.5" text-anchor="start" fill="#555" font-size="26.7">10<tspan dy="-12.2" dx="2.4" font-size="18.8">0</tspan></text>
<text x="1352.5" y="1875.5" text-anchor="start" fill="#555" font-size="26.7">10<tspan dy="-12.2" dx="2.4" font-size="18.8">1</tspan></text>
<text x="44.8" y="1839.2" text-anchor="start" fill="#555" font-size="26.7">10<tspan dy="-12.2" dx="2.4" font-size="18.8">0</tspan></text>
<text x="44.8" y="1628.4" text-anchor="start" fill="#555" font-size="26.7">10<tspan dy="-12.2" dx="2.4" font-size="18.8">1</tspan></text>
<text x="44.8" y="1417.6" text-anchor="start" fill="#555" font-size="26.7">10<tspan dy="-12.2" dx="2.4" font-size="18.8">2</tspan></text>
<text x="44.8" y="1206.8" text-anchor="start" fill="#555" font-size="26.7">10<tspan dy="-12.2" dx="2.4" font-size="18.8">3</tspan></text>
<text x="1650.5" y="1234.5" text-anchor="start" fill="#000" font-size="26.7">10<tspan dy="-12.2" dx="2.4" font-size="18.8">-2</tspan></text>
<text x="1650.5" y="1445.3" text-anchor="start" fill="#000" font-size="26.7">10<tspan dy="-12.2" dx="2.4" font-size="18.8">-3</tspan></text>
<text x="1650.5" y="1656.1" text-anchor="start" fill="#000" font-size="26.7">10<tspan dy="-12.2" dx="2.4" font-size="18.8">-4</tspan></text>
<text transform="translate(25.4 1441.2) rotate(-90)" text-anchor="middle" font-size="32.6" fill="#555">Flux Rope Counts (Wind)</text>
<text transform="translate(1744.3 1439.7) rotate(-90)" text-anchor="middle" font-size="27.9" fill="#000">Frequency</text>
<text y="1609.6" font-size="29.55"><tspan x="344.8" fill="#000">min:</tspan><tspan x="520.8" fill="#111111">0.0000</tspan><tspan x="686.8" fill="#4C72B0">0.0000</tspan><tspan x="852.8" fill="#B03426">0.0000</tspan></text>
<text y="1652.3" font-size="29.55"><tspan x="344.8" fill="#000">max:</tspan><tspan x="520.8" fill="#111111">128.9101</tspan><tspan x="686.8" fill="#4C72B0">49.4961</tspan><tspan x="852.8" fill="#B03426">128.9101</tspan></text>
<text y="1695.1" font-size="29.55"><tspan x="344.8" fill="#000">mean:</tspan><tspan x="520.8" fill="#111111">0.5883</tspan><tspan x="686.8" fill="#4C72B0">0.4471</tspan><tspan x="852.8" fill="#B03426">0.6643</tspan></text>
<text y="1737.8" font-size="29.55"><tspan x="344.8" fill="#000">median:</tspan><tspan x="520.8" fill="#111111">0.4626</tspan><tspan x="686.8" fill="#4C72B0">0.3408</tspan><tspan x="852.8" fill="#B03426">0.5373</tspan></text>
<text y="1780.6" font-size="29.55"><tspan x="344.8" fill="#000">mode:</tspan><tspan x="520.8" fill="#111111">0.2950</tspan><tspan x="686.8" fill="#4C72B0">0.2150</tspan><tspan x="852.8" fill="#B03426">0.4750</tspan></text>
<rect x="132.6" y="1065.2" width="346.2" height="139.6" fill="#E8E8E8" stroke="#fff" stroke-width="1.5"/>
<circle cx="154" cy="1089.3" r="4.7" fill="#111111"/><circle cx="195.4" cy="1089.3" r="4.7" fill="#111111"/>
<text x="228.6" y="1099.7" font-size="29.8" fill="#000">All Vsw</text>
<circle cx="154" cy="1132.9" r="4.7" fill="#4C72B0"/><circle cx="195.4" cy="1132.9" r="4.7" fill="#4C72B0"/>
<text x="228.6" y="1143.3" font-size="29.8" fill="#000">Vsw&lt;400km/s</text>
<circle cx="154" cy="1176.5" r="4.7" fill="#B03426"/><circle cx="195.4" cy="1176.5" r="4.7" fill="#B03426"/>
<text x="228.6" y="1186.9" font-size="29.8" fill="#000">Vsw&gt;=400km/s</text>
</g>
<g font-family="'Liberation Serif','DejaVu Serif',serif" fill="#000"><text x="846.6" y="1017.6" font-size="50">(</text><text x="886.5" y="1017.6" font-size="50">)</text><text x="863.3" y="1017.4" font-size="41" font-family="'DejaVu Serif','Liberation Serif',serif">b</text></g>
<g font-family="'Liberation Serif','DejaVu Serif',serif" fill="#555">
<text x="825.1" y="1924.2" font-size="43">&lt;</text><text x="857.7" y="1917.3" font-size="32" font-style="italic">β</text><text x="877.6" y="1922.5" font-size="24" font-style="italic">p</text><text x="894.4" y="1924.2" font-size="43">&gt;</text>
</g>
</svg></body></html>
